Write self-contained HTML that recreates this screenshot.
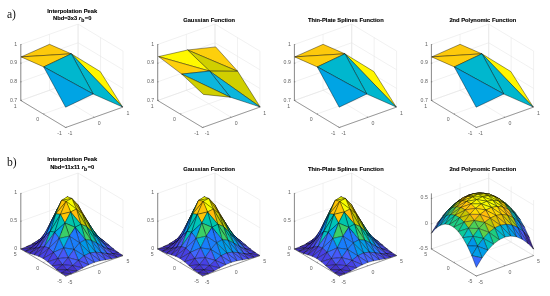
<!DOCTYPE html>
<html><head><meta charset="utf-8"><title>Interpolation peak figure</title>
<style>
html,body{margin:0;padding:0;background:#fff;}
body{width:550px;height:296px;overflow:hidden;}
svg{display:block;}
</style></head><body>
<svg width="550" height="296" viewBox="0 0 550 296">
<rect width="550" height="296" fill="#ffffff"/>
<line x1="65.70" y1="127.50" x2="20.80" y2="100.50" stroke="#e2e2e2" stroke-width="0.5"/>
<line x1="94.35" y1="117.30" x2="49.45" y2="90.30" stroke="#e2e2e2" stroke-width="0.5"/>
<line x1="123.00" y1="107.10" x2="78.10" y2="80.10" stroke="#e2e2e2" stroke-width="0.5"/>
<line x1="65.70" y1="127.50" x2="123.00" y2="107.10" stroke="#e2e2e2" stroke-width="0.5"/>
<line x1="43.25" y1="114.00" x2="100.55" y2="93.60" stroke="#e2e2e2" stroke-width="0.5"/>
<line x1="20.80" y1="100.50" x2="78.10" y2="80.10" stroke="#e2e2e2" stroke-width="0.5"/>
<line x1="20.80" y1="100.50" x2="20.80" y2="44.50" stroke="#e2e2e2" stroke-width="0.5"/>
<line x1="49.45" y1="90.30" x2="49.45" y2="34.30" stroke="#e2e2e2" stroke-width="0.5"/>
<line x1="78.10" y1="80.10" x2="78.10" y2="24.10" stroke="#e2e2e2" stroke-width="0.5"/>
<line x1="123.00" y1="107.10" x2="123.00" y2="51.10" stroke="#e2e2e2" stroke-width="0.5"/>
<line x1="100.55" y1="93.60" x2="100.55" y2="37.60" stroke="#e2e2e2" stroke-width="0.5"/>
<line x1="78.10" y1="80.10" x2="78.10" y2="24.10" stroke="#e2e2e2" stroke-width="0.5"/>
<line x1="20.80" y1="100.50" x2="78.10" y2="80.10" stroke="#e2e2e2" stroke-width="0.5"/>
<line x1="78.10" y1="80.10" x2="123.00" y2="107.10" stroke="#e2e2e2" stroke-width="0.5"/>
<line x1="20.80" y1="81.83" x2="78.10" y2="61.43" stroke="#e2e2e2" stroke-width="0.5"/>
<line x1="78.10" y1="61.43" x2="123.00" y2="88.43" stroke="#e2e2e2" stroke-width="0.5"/>
<line x1="20.80" y1="63.17" x2="78.10" y2="42.77" stroke="#e2e2e2" stroke-width="0.5"/>
<line x1="78.10" y1="42.77" x2="123.00" y2="69.77" stroke="#e2e2e2" stroke-width="0.5"/>
<line x1="20.80" y1="44.50" x2="78.10" y2="24.10" stroke="#e2e2e2" stroke-width="0.5"/>
<line x1="78.10" y1="24.10" x2="123.00" y2="51.10" stroke="#e2e2e2" stroke-width="0.5"/>
<polygon points="71.30,53.80 100.30,71.60 122.60,107.00" fill="#fff500" stroke="#000" stroke-width="0.4" stroke-linejoin="round"/>
<polygon points="21.10,56.90 49.50,44.30 71.30,53.80" fill="#fdc90c" stroke="#000" stroke-width="0.4" stroke-linejoin="round"/>
<polygon points="21.10,56.90 71.30,53.80 43.70,66.90" fill="#fdcd0c" stroke="#000" stroke-width="0.4" stroke-linejoin="round"/>
<polygon points="71.30,53.80 93.20,94.00 122.60,107.00" fill="#00b7ce" stroke="#000" stroke-width="0.4" stroke-linejoin="round"/>
<polygon points="43.70,66.90 71.30,53.80 93.20,94.00" fill="#00b7ce" stroke="#000" stroke-width="0.4" stroke-linejoin="round"/>
<polygon points="43.70,66.90 93.20,94.00 65.60,107.20" fill="#00a4e4" stroke="#000" stroke-width="0.4" stroke-linejoin="round"/>
<line x1="20.80" y1="100.50" x2="20.80" y2="44.50" stroke="#5c5c5c" stroke-width="0.7"/>
<line x1="20.80" y1="100.50" x2="65.70" y2="127.50" stroke="#5c5c5c" stroke-width="0.6"/>
<line x1="65.70" y1="127.50" x2="123.00" y2="107.10" stroke="#5c5c5c" stroke-width="0.6"/>
<line x1="20.30" y1="100.50" x2="21.70" y2="100.50" stroke="#5c5c5c" stroke-width="0.5"/>
<text x="17.20" y="101.50" font-size="5.2" text-anchor="end" font-weight="normal" fill="#626262" font-family="Liberation Sans, sans-serif">0.7</text>
<line x1="20.30" y1="81.83" x2="21.70" y2="81.83" stroke="#5c5c5c" stroke-width="0.5"/>
<text x="17.20" y="82.83" font-size="5.2" text-anchor="end" font-weight="normal" fill="#626262" font-family="Liberation Sans, sans-serif">0.8</text>
<line x1="20.30" y1="63.17" x2="21.70" y2="63.17" stroke="#5c5c5c" stroke-width="0.5"/>
<text x="17.20" y="64.17" font-size="5.2" text-anchor="end" font-weight="normal" fill="#626262" font-family="Liberation Sans, sans-serif">0.9</text>
<line x1="20.30" y1="44.50" x2="21.70" y2="44.50" stroke="#5c5c5c" stroke-width="0.5"/>
<text x="17.20" y="45.50" font-size="5.2" text-anchor="end" font-weight="normal" fill="#626262" font-family="Liberation Sans, sans-serif">1</text>
<line x1="65.70" y1="127.50" x2="64.67" y2="126.88" stroke="#5c5c5c" stroke-width="0.5"/>
<text x="70.10" y="135.20" font-size="5.2" text-anchor="middle" font-weight="normal" fill="#626262" font-family="Liberation Sans, sans-serif">-1</text>
<line x1="94.35" y1="117.30" x2="93.32" y2="116.68" stroke="#5c5c5c" stroke-width="0.5"/>
<text x="99.25" y="125.00" font-size="5.2" text-anchor="middle" font-weight="normal" fill="#626262" font-family="Liberation Sans, sans-serif">0</text>
<line x1="123.00" y1="107.10" x2="121.97" y2="106.48" stroke="#5c5c5c" stroke-width="0.5"/>
<text x="127.90" y="114.80" font-size="5.2" text-anchor="middle" font-weight="normal" fill="#626262" font-family="Liberation Sans, sans-serif">1</text>
<line x1="65.70" y1="127.50" x2="66.83" y2="127.10" stroke="#5c5c5c" stroke-width="0.5"/>
<text x="59.60" y="134.70" font-size="5.2" text-anchor="middle" font-weight="normal" fill="#626262" font-family="Liberation Sans, sans-serif">-1</text>
<line x1="43.25" y1="114.00" x2="44.38" y2="113.60" stroke="#5c5c5c" stroke-width="0.5"/>
<text x="37.65" y="121.20" font-size="5.2" text-anchor="middle" font-weight="normal" fill="#626262" font-family="Liberation Sans, sans-serif">0</text>
<line x1="20.80" y1="100.50" x2="21.93" y2="100.10" stroke="#5c5c5c" stroke-width="0.5"/>
<text x="15.20" y="107.70" font-size="5.2" text-anchor="middle" font-weight="normal" fill="#626262" font-family="Liberation Sans, sans-serif">1</text>
<text x="72.20" y="12.90" font-size="5.75" text-anchor="middle" font-weight="bold" fill="#000" font-family="Liberation Sans, sans-serif" stroke="#000" stroke-width="0.12">Interpolation Peak</text>
<text x="72.20" y="20.10" font-size="5.75" text-anchor="middle" font-weight="bold" fill="#000" font-family="Liberation Sans, sans-serif" stroke="#000" stroke-width="0.12">Nbd=3x3 <tspan font-style="italic">r</tspan><tspan font-size="5.0" dy="2.3" dx="0.2">b</tspan><tspan dy="-2.3" dx="0.5">=0</tspan></text>
<line x1="202.60" y1="127.50" x2="157.70" y2="100.50" stroke="#e2e2e2" stroke-width="0.5"/>
<line x1="231.25" y1="117.30" x2="186.35" y2="90.30" stroke="#e2e2e2" stroke-width="0.5"/>
<line x1="259.90" y1="107.10" x2="215.00" y2="80.10" stroke="#e2e2e2" stroke-width="0.5"/>
<line x1="202.60" y1="127.50" x2="259.90" y2="107.10" stroke="#e2e2e2" stroke-width="0.5"/>
<line x1="180.15" y1="114.00" x2="237.45" y2="93.60" stroke="#e2e2e2" stroke-width="0.5"/>
<line x1="157.70" y1="100.50" x2="215.00" y2="80.10" stroke="#e2e2e2" stroke-width="0.5"/>
<line x1="157.70" y1="100.50" x2="157.70" y2="44.50" stroke="#e2e2e2" stroke-width="0.5"/>
<line x1="186.35" y1="90.30" x2="186.35" y2="34.30" stroke="#e2e2e2" stroke-width="0.5"/>
<line x1="215.00" y1="80.10" x2="215.00" y2="24.10" stroke="#e2e2e2" stroke-width="0.5"/>
<line x1="259.90" y1="107.10" x2="259.90" y2="51.10" stroke="#e2e2e2" stroke-width="0.5"/>
<line x1="237.45" y1="93.60" x2="237.45" y2="37.60" stroke="#e2e2e2" stroke-width="0.5"/>
<line x1="215.00" y1="80.10" x2="215.00" y2="24.10" stroke="#e2e2e2" stroke-width="0.5"/>
<line x1="157.70" y1="100.50" x2="215.00" y2="80.10" stroke="#e2e2e2" stroke-width="0.5"/>
<line x1="215.00" y1="80.10" x2="259.90" y2="107.10" stroke="#e2e2e2" stroke-width="0.5"/>
<line x1="157.70" y1="81.83" x2="215.00" y2="61.43" stroke="#e2e2e2" stroke-width="0.5"/>
<line x1="215.00" y1="61.43" x2="259.90" y2="88.43" stroke="#e2e2e2" stroke-width="0.5"/>
<line x1="157.70" y1="63.17" x2="215.00" y2="42.77" stroke="#e2e2e2" stroke-width="0.5"/>
<line x1="215.00" y1="42.77" x2="259.90" y2="69.77" stroke="#e2e2e2" stroke-width="0.5"/>
<line x1="157.70" y1="44.50" x2="215.00" y2="24.10" stroke="#e2e2e2" stroke-width="0.5"/>
<line x1="215.00" y1="24.10" x2="259.90" y2="51.10" stroke="#e2e2e2" stroke-width="0.5"/>
<polygon points="187.60,50.00 215.70,46.90 237.70,71.30" fill="#fdcf0c" stroke="#000" stroke-width="0.4" stroke-linejoin="round"/>
<polygon points="187.60,50.00 209.60,71.10 237.70,71.30" fill="#d0cf00" stroke="#000" stroke-width="0.4" stroke-linejoin="round"/>
<polygon points="158.60,56.60 187.60,50.00 209.60,71.10" fill="#fff800" stroke="#000" stroke-width="0.4" stroke-linejoin="round"/>
<polygon points="158.60,56.60 209.60,71.10 181.70,74.10" fill="#fdcf0c" stroke="#000" stroke-width="0.4" stroke-linejoin="round"/>
<polygon points="209.60,71.10 237.70,71.30 260.20,107.00" fill="#d0cf00" stroke="#000" stroke-width="0.4" stroke-linejoin="round"/>
<polygon points="209.60,71.10 230.30,97.20 260.20,107.00" fill="#0cb6dc" stroke="#000" stroke-width="0.4" stroke-linejoin="round"/>
<polygon points="181.70,74.10 209.60,71.10 230.30,97.20" fill="#0cb6dc" stroke="#000" stroke-width="0.4" stroke-linejoin="round"/>
<polygon points="181.70,74.10 230.30,97.20 203.40,94.40" fill="#d0cf00" stroke="#000" stroke-width="0.4" stroke-linejoin="round"/>
<line x1="157.70" y1="100.50" x2="157.70" y2="44.50" stroke="#5c5c5c" stroke-width="0.7"/>
<line x1="157.70" y1="100.50" x2="202.60" y2="127.50" stroke="#5c5c5c" stroke-width="0.6"/>
<line x1="202.60" y1="127.50" x2="259.90" y2="107.10" stroke="#5c5c5c" stroke-width="0.6"/>
<line x1="157.20" y1="100.50" x2="158.60" y2="100.50" stroke="#5c5c5c" stroke-width="0.5"/>
<text x="154.10" y="101.50" font-size="5.2" text-anchor="end" font-weight="normal" fill="#626262" font-family="Liberation Sans, sans-serif">0.7</text>
<line x1="157.20" y1="81.83" x2="158.60" y2="81.83" stroke="#5c5c5c" stroke-width="0.5"/>
<text x="154.10" y="82.83" font-size="5.2" text-anchor="end" font-weight="normal" fill="#626262" font-family="Liberation Sans, sans-serif">0.8</text>
<line x1="157.20" y1="63.17" x2="158.60" y2="63.17" stroke="#5c5c5c" stroke-width="0.5"/>
<text x="154.10" y="64.17" font-size="5.2" text-anchor="end" font-weight="normal" fill="#626262" font-family="Liberation Sans, sans-serif">0.9</text>
<line x1="157.20" y1="44.50" x2="158.60" y2="44.50" stroke="#5c5c5c" stroke-width="0.5"/>
<text x="154.10" y="45.50" font-size="5.2" text-anchor="end" font-weight="normal" fill="#626262" font-family="Liberation Sans, sans-serif">1</text>
<line x1="202.60" y1="127.50" x2="201.57" y2="126.88" stroke="#5c5c5c" stroke-width="0.5"/>
<text x="207.00" y="135.20" font-size="5.2" text-anchor="middle" font-weight="normal" fill="#626262" font-family="Liberation Sans, sans-serif">-1</text>
<line x1="231.25" y1="117.30" x2="230.22" y2="116.68" stroke="#5c5c5c" stroke-width="0.5"/>
<text x="236.15" y="125.00" font-size="5.2" text-anchor="middle" font-weight="normal" fill="#626262" font-family="Liberation Sans, sans-serif">0</text>
<line x1="259.90" y1="107.10" x2="258.87" y2="106.48" stroke="#5c5c5c" stroke-width="0.5"/>
<text x="264.80" y="114.80" font-size="5.2" text-anchor="middle" font-weight="normal" fill="#626262" font-family="Liberation Sans, sans-serif">1</text>
<line x1="202.60" y1="127.50" x2="203.73" y2="127.10" stroke="#5c5c5c" stroke-width="0.5"/>
<text x="196.50" y="134.70" font-size="5.2" text-anchor="middle" font-weight="normal" fill="#626262" font-family="Liberation Sans, sans-serif">-1</text>
<line x1="180.15" y1="114.00" x2="181.28" y2="113.60" stroke="#5c5c5c" stroke-width="0.5"/>
<text x="174.55" y="121.20" font-size="5.2" text-anchor="middle" font-weight="normal" fill="#626262" font-family="Liberation Sans, sans-serif">0</text>
<line x1="157.70" y1="100.50" x2="158.83" y2="100.10" stroke="#5c5c5c" stroke-width="0.5"/>
<text x="152.10" y="107.70" font-size="5.2" text-anchor="middle" font-weight="normal" fill="#626262" font-family="Liberation Sans, sans-serif">1</text>
<text x="209.10" y="22.35" font-size="5.75" text-anchor="middle" font-weight="bold" fill="#000" font-family="Liberation Sans, sans-serif" stroke="#000" stroke-width="0.12">Gaussian Function</text>
<line x1="339.30" y1="127.50" x2="294.40" y2="100.50" stroke="#e2e2e2" stroke-width="0.5"/>
<line x1="367.95" y1="117.30" x2="323.05" y2="90.30" stroke="#e2e2e2" stroke-width="0.5"/>
<line x1="396.60" y1="107.10" x2="351.70" y2="80.10" stroke="#e2e2e2" stroke-width="0.5"/>
<line x1="339.30" y1="127.50" x2="396.60" y2="107.10" stroke="#e2e2e2" stroke-width="0.5"/>
<line x1="316.85" y1="114.00" x2="374.15" y2="93.60" stroke="#e2e2e2" stroke-width="0.5"/>
<line x1="294.40" y1="100.50" x2="351.70" y2="80.10" stroke="#e2e2e2" stroke-width="0.5"/>
<line x1="294.40" y1="100.50" x2="294.40" y2="44.50" stroke="#e2e2e2" stroke-width="0.5"/>
<line x1="323.05" y1="90.30" x2="323.05" y2="34.30" stroke="#e2e2e2" stroke-width="0.5"/>
<line x1="351.70" y1="80.10" x2="351.70" y2="24.10" stroke="#e2e2e2" stroke-width="0.5"/>
<line x1="396.60" y1="107.10" x2="396.60" y2="51.10" stroke="#e2e2e2" stroke-width="0.5"/>
<line x1="374.15" y1="93.60" x2="374.15" y2="37.60" stroke="#e2e2e2" stroke-width="0.5"/>
<line x1="351.70" y1="80.10" x2="351.70" y2="24.10" stroke="#e2e2e2" stroke-width="0.5"/>
<line x1="294.40" y1="100.50" x2="351.70" y2="80.10" stroke="#e2e2e2" stroke-width="0.5"/>
<line x1="351.70" y1="80.10" x2="396.60" y2="107.10" stroke="#e2e2e2" stroke-width="0.5"/>
<line x1="294.40" y1="81.83" x2="351.70" y2="61.43" stroke="#e2e2e2" stroke-width="0.5"/>
<line x1="351.70" y1="61.43" x2="396.60" y2="88.43" stroke="#e2e2e2" stroke-width="0.5"/>
<line x1="294.40" y1="63.17" x2="351.70" y2="42.77" stroke="#e2e2e2" stroke-width="0.5"/>
<line x1="351.70" y1="42.77" x2="396.60" y2="69.77" stroke="#e2e2e2" stroke-width="0.5"/>
<line x1="294.40" y1="44.50" x2="351.70" y2="24.10" stroke="#e2e2e2" stroke-width="0.5"/>
<line x1="351.70" y1="24.10" x2="396.60" y2="51.10" stroke="#e2e2e2" stroke-width="0.5"/>
<polygon points="344.90,53.80 373.90,71.60 396.20,107.00" fill="#fff500" stroke="#000" stroke-width="0.4" stroke-linejoin="round"/>
<polygon points="294.70,56.90 323.10,44.30 344.90,53.80" fill="#fdc90c" stroke="#000" stroke-width="0.4" stroke-linejoin="round"/>
<polygon points="294.70,56.90 344.90,53.80 317.30,66.90" fill="#fdcd0c" stroke="#000" stroke-width="0.4" stroke-linejoin="round"/>
<polygon points="344.90,53.80 366.80,94.00 396.20,107.00" fill="#00b7ce" stroke="#000" stroke-width="0.4" stroke-linejoin="round"/>
<polygon points="317.30,66.90 344.90,53.80 366.80,94.00" fill="#00b7ce" stroke="#000" stroke-width="0.4" stroke-linejoin="round"/>
<polygon points="317.30,66.90 366.80,94.00 339.20,107.20" fill="#00a4e4" stroke="#000" stroke-width="0.4" stroke-linejoin="round"/>
<line x1="294.40" y1="100.50" x2="294.40" y2="44.50" stroke="#5c5c5c" stroke-width="0.7"/>
<line x1="294.40" y1="100.50" x2="339.30" y2="127.50" stroke="#5c5c5c" stroke-width="0.6"/>
<line x1="339.30" y1="127.50" x2="396.60" y2="107.10" stroke="#5c5c5c" stroke-width="0.6"/>
<line x1="293.90" y1="100.50" x2="295.30" y2="100.50" stroke="#5c5c5c" stroke-width="0.5"/>
<text x="290.80" y="101.50" font-size="5.2" text-anchor="end" font-weight="normal" fill="#626262" font-family="Liberation Sans, sans-serif">0.7</text>
<line x1="293.90" y1="81.83" x2="295.30" y2="81.83" stroke="#5c5c5c" stroke-width="0.5"/>
<text x="290.80" y="82.83" font-size="5.2" text-anchor="end" font-weight="normal" fill="#626262" font-family="Liberation Sans, sans-serif">0.8</text>
<line x1="293.90" y1="63.17" x2="295.30" y2="63.17" stroke="#5c5c5c" stroke-width="0.5"/>
<text x="290.80" y="64.17" font-size="5.2" text-anchor="end" font-weight="normal" fill="#626262" font-family="Liberation Sans, sans-serif">0.9</text>
<line x1="293.90" y1="44.50" x2="295.30" y2="44.50" stroke="#5c5c5c" stroke-width="0.5"/>
<text x="290.80" y="45.50" font-size="5.2" text-anchor="end" font-weight="normal" fill="#626262" font-family="Liberation Sans, sans-serif">1</text>
<line x1="339.30" y1="127.50" x2="338.27" y2="126.88" stroke="#5c5c5c" stroke-width="0.5"/>
<text x="343.70" y="135.20" font-size="5.2" text-anchor="middle" font-weight="normal" fill="#626262" font-family="Liberation Sans, sans-serif">-1</text>
<line x1="367.95" y1="117.30" x2="366.92" y2="116.68" stroke="#5c5c5c" stroke-width="0.5"/>
<text x="372.85" y="125.00" font-size="5.2" text-anchor="middle" font-weight="normal" fill="#626262" font-family="Liberation Sans, sans-serif">0</text>
<line x1="396.60" y1="107.10" x2="395.57" y2="106.48" stroke="#5c5c5c" stroke-width="0.5"/>
<text x="401.50" y="114.80" font-size="5.2" text-anchor="middle" font-weight="normal" fill="#626262" font-family="Liberation Sans, sans-serif">1</text>
<line x1="339.30" y1="127.50" x2="340.43" y2="127.10" stroke="#5c5c5c" stroke-width="0.5"/>
<text x="333.20" y="134.70" font-size="5.2" text-anchor="middle" font-weight="normal" fill="#626262" font-family="Liberation Sans, sans-serif">-1</text>
<line x1="316.85" y1="114.00" x2="317.98" y2="113.60" stroke="#5c5c5c" stroke-width="0.5"/>
<text x="311.25" y="121.20" font-size="5.2" text-anchor="middle" font-weight="normal" fill="#626262" font-family="Liberation Sans, sans-serif">0</text>
<line x1="294.40" y1="100.50" x2="295.53" y2="100.10" stroke="#5c5c5c" stroke-width="0.5"/>
<text x="288.80" y="107.70" font-size="5.2" text-anchor="middle" font-weight="normal" fill="#626262" font-family="Liberation Sans, sans-serif">1</text>
<text x="345.80" y="22.35" font-size="5.75" text-anchor="middle" font-weight="bold" fill="#000" font-family="Liberation Sans, sans-serif" stroke="#000" stroke-width="0.12">Thin-Plate Splines Function</text>
<line x1="476.30" y1="127.50" x2="431.40" y2="100.50" stroke="#e2e2e2" stroke-width="0.5"/>
<line x1="504.95" y1="117.30" x2="460.05" y2="90.30" stroke="#e2e2e2" stroke-width="0.5"/>
<line x1="533.60" y1="107.10" x2="488.70" y2="80.10" stroke="#e2e2e2" stroke-width="0.5"/>
<line x1="476.30" y1="127.50" x2="533.60" y2="107.10" stroke="#e2e2e2" stroke-width="0.5"/>
<line x1="453.85" y1="114.00" x2="511.15" y2="93.60" stroke="#e2e2e2" stroke-width="0.5"/>
<line x1="431.40" y1="100.50" x2="488.70" y2="80.10" stroke="#e2e2e2" stroke-width="0.5"/>
<line x1="431.40" y1="100.50" x2="431.40" y2="44.50" stroke="#e2e2e2" stroke-width="0.5"/>
<line x1="460.05" y1="90.30" x2="460.05" y2="34.30" stroke="#e2e2e2" stroke-width="0.5"/>
<line x1="488.70" y1="80.10" x2="488.70" y2="24.10" stroke="#e2e2e2" stroke-width="0.5"/>
<line x1="533.60" y1="107.10" x2="533.60" y2="51.10" stroke="#e2e2e2" stroke-width="0.5"/>
<line x1="511.15" y1="93.60" x2="511.15" y2="37.60" stroke="#e2e2e2" stroke-width="0.5"/>
<line x1="488.70" y1="80.10" x2="488.70" y2="24.10" stroke="#e2e2e2" stroke-width="0.5"/>
<line x1="431.40" y1="100.50" x2="488.70" y2="80.10" stroke="#e2e2e2" stroke-width="0.5"/>
<line x1="488.70" y1="80.10" x2="533.60" y2="107.10" stroke="#e2e2e2" stroke-width="0.5"/>
<line x1="431.40" y1="81.83" x2="488.70" y2="61.43" stroke="#e2e2e2" stroke-width="0.5"/>
<line x1="488.70" y1="61.43" x2="533.60" y2="88.43" stroke="#e2e2e2" stroke-width="0.5"/>
<line x1="431.40" y1="63.17" x2="488.70" y2="42.77" stroke="#e2e2e2" stroke-width="0.5"/>
<line x1="488.70" y1="42.77" x2="533.60" y2="69.77" stroke="#e2e2e2" stroke-width="0.5"/>
<line x1="431.40" y1="44.50" x2="488.70" y2="24.10" stroke="#e2e2e2" stroke-width="0.5"/>
<line x1="488.70" y1="24.10" x2="533.60" y2="51.10" stroke="#e2e2e2" stroke-width="0.5"/>
<polygon points="481.90,53.80 510.90,71.60 533.20,107.00" fill="#fff500" stroke="#000" stroke-width="0.4" stroke-linejoin="round"/>
<polygon points="431.70,56.90 460.10,44.30 481.90,53.80" fill="#fdc90c" stroke="#000" stroke-width="0.4" stroke-linejoin="round"/>
<polygon points="431.70,56.90 481.90,53.80 454.30,66.90" fill="#fdcd0c" stroke="#000" stroke-width="0.4" stroke-linejoin="round"/>
<polygon points="481.90,53.80 503.80,94.00 533.20,107.00" fill="#00b7ce" stroke="#000" stroke-width="0.4" stroke-linejoin="round"/>
<polygon points="454.30,66.90 481.90,53.80 503.80,94.00" fill="#00b7ce" stroke="#000" stroke-width="0.4" stroke-linejoin="round"/>
<polygon points="454.30,66.90 503.80,94.00 476.20,107.20" fill="#00a4e4" stroke="#000" stroke-width="0.4" stroke-linejoin="round"/>
<line x1="431.40" y1="100.50" x2="431.40" y2="44.50" stroke="#5c5c5c" stroke-width="0.7"/>
<line x1="431.40" y1="100.50" x2="476.30" y2="127.50" stroke="#5c5c5c" stroke-width="0.6"/>
<line x1="476.30" y1="127.50" x2="533.60" y2="107.10" stroke="#5c5c5c" stroke-width="0.6"/>
<line x1="430.90" y1="100.50" x2="432.30" y2="100.50" stroke="#5c5c5c" stroke-width="0.5"/>
<text x="427.80" y="101.50" font-size="5.2" text-anchor="end" font-weight="normal" fill="#626262" font-family="Liberation Sans, sans-serif">0.7</text>
<line x1="430.90" y1="81.83" x2="432.30" y2="81.83" stroke="#5c5c5c" stroke-width="0.5"/>
<text x="427.80" y="82.83" font-size="5.2" text-anchor="end" font-weight="normal" fill="#626262" font-family="Liberation Sans, sans-serif">0.8</text>
<line x1="430.90" y1="63.17" x2="432.30" y2="63.17" stroke="#5c5c5c" stroke-width="0.5"/>
<text x="427.80" y="64.17" font-size="5.2" text-anchor="end" font-weight="normal" fill="#626262" font-family="Liberation Sans, sans-serif">0.9</text>
<line x1="430.90" y1="44.50" x2="432.30" y2="44.50" stroke="#5c5c5c" stroke-width="0.5"/>
<text x="427.80" y="45.50" font-size="5.2" text-anchor="end" font-weight="normal" fill="#626262" font-family="Liberation Sans, sans-serif">1</text>
<line x1="476.30" y1="127.50" x2="475.27" y2="126.88" stroke="#5c5c5c" stroke-width="0.5"/>
<text x="480.70" y="135.20" font-size="5.2" text-anchor="middle" font-weight="normal" fill="#626262" font-family="Liberation Sans, sans-serif">-1</text>
<line x1="504.95" y1="117.30" x2="503.92" y2="116.68" stroke="#5c5c5c" stroke-width="0.5"/>
<text x="509.85" y="125.00" font-size="5.2" text-anchor="middle" font-weight="normal" fill="#626262" font-family="Liberation Sans, sans-serif">0</text>
<line x1="533.60" y1="107.10" x2="532.57" y2="106.48" stroke="#5c5c5c" stroke-width="0.5"/>
<text x="538.50" y="114.80" font-size="5.2" text-anchor="middle" font-weight="normal" fill="#626262" font-family="Liberation Sans, sans-serif">1</text>
<line x1="476.30" y1="127.50" x2="477.43" y2="127.10" stroke="#5c5c5c" stroke-width="0.5"/>
<text x="470.20" y="134.70" font-size="5.2" text-anchor="middle" font-weight="normal" fill="#626262" font-family="Liberation Sans, sans-serif">-1</text>
<line x1="453.85" y1="114.00" x2="454.98" y2="113.60" stroke="#5c5c5c" stroke-width="0.5"/>
<text x="448.25" y="121.20" font-size="5.2" text-anchor="middle" font-weight="normal" fill="#626262" font-family="Liberation Sans, sans-serif">0</text>
<line x1="431.40" y1="100.50" x2="432.53" y2="100.10" stroke="#5c5c5c" stroke-width="0.5"/>
<text x="425.80" y="107.70" font-size="5.2" text-anchor="middle" font-weight="normal" fill="#626262" font-family="Liberation Sans, sans-serif">1</text>
<text x="482.80" y="22.35" font-size="5.75" text-anchor="middle" font-weight="bold" fill="#000" font-family="Liberation Sans, sans-serif" stroke="#000" stroke-width="0.12">2nd Polynomic Function</text>
<line x1="65.70" y1="276.00" x2="20.80" y2="249.00" stroke="#e2e2e2" stroke-width="0.5"/>
<line x1="94.35" y1="265.80" x2="49.45" y2="238.80" stroke="#e2e2e2" stroke-width="0.5"/>
<line x1="123.00" y1="255.60" x2="78.10" y2="228.60" stroke="#e2e2e2" stroke-width="0.5"/>
<line x1="65.70" y1="276.00" x2="123.00" y2="255.60" stroke="#e2e2e2" stroke-width="0.5"/>
<line x1="43.25" y1="262.50" x2="100.55" y2="242.10" stroke="#e2e2e2" stroke-width="0.5"/>
<line x1="20.80" y1="249.00" x2="78.10" y2="228.60" stroke="#e2e2e2" stroke-width="0.5"/>
<line x1="20.80" y1="249.00" x2="20.80" y2="193.40" stroke="#e2e2e2" stroke-width="0.5"/>
<line x1="49.45" y1="238.80" x2="49.45" y2="183.20" stroke="#e2e2e2" stroke-width="0.5"/>
<line x1="78.10" y1="228.60" x2="78.10" y2="173.00" stroke="#e2e2e2" stroke-width="0.5"/>
<line x1="123.00" y1="255.60" x2="123.00" y2="200.00" stroke="#e2e2e2" stroke-width="0.5"/>
<line x1="100.55" y1="242.10" x2="100.55" y2="186.50" stroke="#e2e2e2" stroke-width="0.5"/>
<line x1="78.10" y1="228.60" x2="78.10" y2="173.00" stroke="#e2e2e2" stroke-width="0.5"/>
<line x1="20.80" y1="249.00" x2="78.10" y2="228.60" stroke="#e2e2e2" stroke-width="0.5"/>
<line x1="78.10" y1="228.60" x2="123.00" y2="255.60" stroke="#e2e2e2" stroke-width="0.5"/>
<line x1="20.80" y1="221.20" x2="78.10" y2="200.80" stroke="#e2e2e2" stroke-width="0.5"/>
<line x1="78.10" y1="200.80" x2="123.00" y2="227.80" stroke="#e2e2e2" stroke-width="0.5"/>
<line x1="20.80" y1="193.40" x2="78.10" y2="173.00" stroke="#e2e2e2" stroke-width="0.5"/>
<line x1="78.10" y1="173.00" x2="123.00" y2="200.00" stroke="#e2e2e2" stroke-width="0.5"/>
<polygon points="78.10,228.57 72.37,230.39 82.59,231.05" fill="#422ec0" stroke="#000" stroke-width="0.35" stroke-linejoin="round"/>
<polygon points="76.86,232.04 82.59,231.05 72.37,230.39" fill="#422ec0" stroke="#000" stroke-width="0.35" stroke-linejoin="round"/>
<polygon points="72.37,230.39 66.64,231.74 76.86,232.04" fill="#4332cb" stroke="#000" stroke-width="0.35" stroke-linejoin="round"/>
<polygon points="82.59,231.05 76.86,232.04 87.08,233.09" fill="#4332cb" stroke="#000" stroke-width="0.35" stroke-linejoin="round"/>
<polygon points="71.13,231.64 76.86,232.04 66.64,231.74" fill="#4332cb" stroke="#000" stroke-width="0.35" stroke-linejoin="round"/>
<polygon points="66.64,231.74 60.91,232.57 71.13,231.64" fill="#4537d5" stroke="#000" stroke-width="0.35" stroke-linejoin="round"/>
<polygon points="81.35,232.41 87.08,233.09 76.86,232.04" fill="#4332cb" stroke="#000" stroke-width="0.35" stroke-linejoin="round"/>
<polygon points="76.86,232.04 71.13,231.64 81.35,232.41" fill="#4741e5" stroke="#000" stroke-width="0.35" stroke-linejoin="round"/>
<polygon points="87.08,233.09 81.35,232.41 91.57,234.69" fill="#4741e5" stroke="#000" stroke-width="0.35" stroke-linejoin="round"/>
<polygon points="65.40,230.15 71.13,231.64 60.91,232.57" fill="#4537d5" stroke="#000" stroke-width="0.35" stroke-linejoin="round"/>
<polygon points="60.91,232.57 55.18,233.37 65.40,230.15" fill="#4741e5" stroke="#000" stroke-width="0.35" stroke-linejoin="round"/>
<polygon points="75.62,229.22 81.35,232.41 71.13,231.64" fill="#4741e5" stroke="#000" stroke-width="0.35" stroke-linejoin="round"/>
<polygon points="71.13,231.64 65.40,230.15 75.62,229.22" fill="#4758f8" stroke="#000" stroke-width="0.35" stroke-linejoin="round"/>
<polygon points="85.84,232.01 91.57,234.69 81.35,232.41" fill="#4741e5" stroke="#000" stroke-width="0.35" stroke-linejoin="round"/>
<polygon points="81.35,232.41 75.62,229.22 85.84,232.01" fill="#465efb" stroke="#000" stroke-width="0.35" stroke-linejoin="round"/>
<polygon points="59.67,228.80 65.40,230.15 55.18,233.37" fill="#4741e5" stroke="#000" stroke-width="0.35" stroke-linejoin="round"/>
<polygon points="91.57,234.69 85.84,232.01 96.06,236.36" fill="#4852f4" stroke="#000" stroke-width="0.35" stroke-linejoin="round"/>
<polygon points="55.18,233.37 49.45,234.84 59.67,228.80" fill="#4741e5" stroke="#000" stroke-width="0.35" stroke-linejoin="round"/>
<polygon points="69.89,224.28 75.62,229.22 65.40,230.15" fill="#4758f8" stroke="#000" stroke-width="0.35" stroke-linejoin="round"/>
<polygon points="65.40,230.15 59.67,228.80 69.89,224.28" fill="#4067fe" stroke="#000" stroke-width="0.35" stroke-linejoin="round"/>
<polygon points="80.11,225.87 85.84,232.01 75.62,229.22" fill="#465efb" stroke="#000" stroke-width="0.35" stroke-linejoin="round"/>
<polygon points="75.62,229.22 69.89,224.28 80.11,225.87" fill="#187dfb" stroke="#000" stroke-width="0.35" stroke-linejoin="round"/>
<polygon points="90.33,232.18 96.06,236.36 85.84,232.01" fill="#4852f4" stroke="#000" stroke-width="0.35" stroke-linejoin="round"/>
<polygon points="53.94,229.22 59.67,228.80 49.45,234.84" fill="#4741e5" stroke="#000" stroke-width="0.35" stroke-linejoin="round"/>
<polygon points="85.84,232.01 80.11,225.87 90.33,232.18" fill="#1d78fd" stroke="#000" stroke-width="0.35" stroke-linejoin="round"/>
<polygon points="49.45,234.84 43.72,237.36 53.94,229.22" fill="#4741e5" stroke="#000" stroke-width="0.35" stroke-linejoin="round"/>
<polygon points="64.16,219.66 69.89,224.28 59.67,228.80" fill="#4067fe" stroke="#000" stroke-width="0.35" stroke-linejoin="round"/>
<polygon points="96.06,236.36 90.33,232.18 100.55,238.68" fill="#4563fd" stroke="#000" stroke-width="0.35" stroke-linejoin="round"/>
<polygon points="59.67,228.80 53.94,229.22 64.16,219.66" fill="#3070ff" stroke="#000" stroke-width="0.35" stroke-linejoin="round"/>
<polygon points="74.38,217.35 80.11,225.87 69.89,224.28" fill="#187dfb" stroke="#000" stroke-width="0.35" stroke-linejoin="round"/>
<polygon points="69.89,224.28 64.16,219.66 74.38,217.35" fill="#00aae1" stroke="#000" stroke-width="0.35" stroke-linejoin="round"/>
<polygon points="84.60,224.05 90.33,232.18 80.11,225.87" fill="#1d78fd" stroke="#000" stroke-width="0.35" stroke-linejoin="round"/>
<polygon points="48.21,232.37 53.94,229.22 43.72,237.36" fill="#4741e5" stroke="#000" stroke-width="0.35" stroke-linejoin="round"/>
<polygon points="80.11,225.87 74.38,217.35 84.60,224.05" fill="#00bec7" stroke="#000" stroke-width="0.35" stroke-linejoin="round"/>
<polygon points="94.82,234.07 100.55,238.68 90.33,232.18" fill="#4563fd" stroke="#000" stroke-width="0.35" stroke-linejoin="round"/>
<polygon points="43.72,237.36 37.99,240.63 48.21,232.37" fill="#4537d5" stroke="#000" stroke-width="0.35" stroke-linejoin="round"/>
<polygon points="58.43,218.21 64.16,219.66 53.94,229.22" fill="#3070ff" stroke="#000" stroke-width="0.35" stroke-linejoin="round"/>
<polygon points="90.33,232.18 84.60,224.05 94.82,234.07" fill="#0097ea" stroke="#000" stroke-width="0.35" stroke-linejoin="round"/>
<polygon points="53.94,229.22 48.21,232.37 58.43,218.21" fill="#3a6cff" stroke="#000" stroke-width="0.35" stroke-linejoin="round"/>
<polygon points="68.65,209.09 74.38,217.35 64.16,219.66" fill="#00aae1" stroke="#000" stroke-width="0.35" stroke-linejoin="round"/>
<polygon points="100.55,238.68 94.82,234.07 105.04,241.84" fill="#4563fd" stroke="#000" stroke-width="0.35" stroke-linejoin="round"/>
<polygon points="64.16,219.66 58.43,218.21 68.65,209.09" fill="#00bec7" stroke="#000" stroke-width="0.35" stroke-linejoin="round"/>
<polygon points="78.87,213.32 84.60,224.05 74.38,217.35" fill="#00bec7" stroke="#000" stroke-width="0.35" stroke-linejoin="round"/>
<polygon points="42.48,237.72 48.21,232.37 37.99,240.63" fill="#4537d5" stroke="#000" stroke-width="0.35" stroke-linejoin="round"/>
<polygon points="74.38,217.35 68.65,209.09 78.87,213.32" fill="#6fce3c" stroke="#000" stroke-width="0.35" stroke-linejoin="round"/>
<polygon points="89.09,225.65 94.82,234.07 84.60,224.05" fill="#0097ea" stroke="#000" stroke-width="0.35" stroke-linejoin="round"/>
<polygon points="37.99,240.63 32.26,243.92 42.48,237.72" fill="#4332cb" stroke="#000" stroke-width="0.35" stroke-linejoin="round"/>
<polygon points="52.70,222.00 58.43,218.21 48.21,232.37" fill="#3a6cff" stroke="#000" stroke-width="0.35" stroke-linejoin="round"/>
<polygon points="84.60,224.05 78.87,213.32 89.09,225.65" fill="#2acf74" stroke="#000" stroke-width="0.35" stroke-linejoin="round"/>
<polygon points="99.31,238.00 105.04,241.84 94.82,234.07" fill="#4563fd" stroke="#000" stroke-width="0.35" stroke-linejoin="round"/>
<polygon points="48.21,232.37 42.48,237.72 52.70,222.00" fill="#4758f8" stroke="#000" stroke-width="0.35" stroke-linejoin="round"/>
<polygon points="62.92,205.14 68.65,209.09 58.43,218.21" fill="#00bec7" stroke="#000" stroke-width="0.35" stroke-linejoin="round"/>
<polygon points="94.82,234.07 89.09,225.65 99.31,238.00" fill="#009de8" stroke="#000" stroke-width="0.35" stroke-linejoin="round"/>
<polygon points="58.43,218.21 52.70,222.00 62.92,205.14" fill="#00b7d5" stroke="#000" stroke-width="0.35" stroke-linejoin="round"/>
<polygon points="73.14,202.74 78.87,213.32 68.65,209.09" fill="#6fce3c" stroke="#000" stroke-width="0.35" stroke-linejoin="round"/>
<polygon points="36.75,243.54 42.48,237.72 32.26,243.92" fill="#4332cb" stroke="#000" stroke-width="0.35" stroke-linejoin="round"/>
<polygon points="105.04,241.84 99.31,238.00 109.53,245.58" fill="#465efb" stroke="#000" stroke-width="0.35" stroke-linejoin="round"/>
<polygon points="68.65,209.09 62.92,205.14 73.14,202.74" fill="#dfc200" stroke="#000" stroke-width="0.35" stroke-linejoin="round"/>
<polygon points="83.36,214.92 89.09,225.65 78.87,213.32" fill="#2acf74" stroke="#000" stroke-width="0.35" stroke-linejoin="round"/>
<polygon points="32.26,243.92 26.53,246.70 36.75,243.54" fill="#422ec0" stroke="#000" stroke-width="0.35" stroke-linejoin="round"/>
<polygon points="46.97,230.39 52.70,222.00 42.48,237.72" fill="#4758f8" stroke="#000" stroke-width="0.35" stroke-linejoin="round"/>
<polygon points="78.87,213.32 73.14,202.74 83.36,214.92" fill="#ffbd0c" stroke="#000" stroke-width="0.35" stroke-linejoin="round"/>
<polygon points="93.58,230.82 99.31,238.00 89.09,225.65" fill="#009de8" stroke="#000" stroke-width="0.35" stroke-linejoin="round"/>
<polygon points="42.48,237.72 36.75,243.54 46.97,230.39" fill="#4741e5" stroke="#000" stroke-width="0.35" stroke-linejoin="round"/>
<polygon points="57.19,209.14 62.92,205.14 52.70,222.00" fill="#00b7d5" stroke="#000" stroke-width="0.35" stroke-linejoin="round"/>
<polygon points="89.09,225.65 83.36,214.92 93.58,230.82" fill="#3acf67" stroke="#000" stroke-width="0.35" stroke-linejoin="round"/>
<polygon points="103.80,243.31 109.53,245.58 99.31,238.00" fill="#465efb" stroke="#000" stroke-width="0.35" stroke-linejoin="round"/>
<polygon points="52.70,222.00 46.97,230.39 57.19,209.14" fill="#0a8cf0" stroke="#000" stroke-width="0.35" stroke-linejoin="round"/>
<polygon points="67.41,196.81 73.14,202.74 62.92,205.14" fill="#dfc200" stroke="#000" stroke-width="0.35" stroke-linejoin="round"/>
<polygon points="31.02,248.25 36.75,243.54 26.53,246.70" fill="#422ec0" stroke="#000" stroke-width="0.35" stroke-linejoin="round"/>
<polygon points="99.31,238.00 93.58,230.82 103.80,243.31" fill="#098cf0" stroke="#000" stroke-width="0.35" stroke-linejoin="round"/>
<polygon points="62.92,205.14 57.19,209.14 67.41,196.81" fill="#c7c501" stroke="#000" stroke-width="0.35" stroke-linejoin="round"/>
<polygon points="77.63,204.51 83.36,214.92 73.14,202.74" fill="#ffbd0c" stroke="#000" stroke-width="0.35" stroke-linejoin="round"/>
<polygon points="26.53,246.70 20.80,248.97 31.02,248.25" fill="#422ec0" stroke="#000" stroke-width="0.35" stroke-linejoin="round"/>
<polygon points="41.24,240.20 46.97,230.39 36.75,243.54" fill="#4741e5" stroke="#000" stroke-width="0.35" stroke-linejoin="round"/>
<polygon points="109.53,245.58 103.80,243.31 114.02,249.33" fill="#484df0" stroke="#000" stroke-width="0.35" stroke-linejoin="round"/>
<polygon points="73.14,202.74 67.41,196.81 77.63,204.51" fill="#f9ff00" stroke="#000" stroke-width="0.35" stroke-linejoin="round"/>
<polygon points="87.85,221.88 93.58,230.82 83.36,214.92" fill="#3acf67" stroke="#000" stroke-width="0.35" stroke-linejoin="round"/>
<polygon points="36.75,243.54 31.02,248.25 41.24,240.20" fill="#4332cb" stroke="#000" stroke-width="0.35" stroke-linejoin="round"/>
<polygon points="51.46,220.75 57.19,209.14 46.97,230.39" fill="#0a8cf0" stroke="#000" stroke-width="0.35" stroke-linejoin="round"/>
<polygon points="83.36,214.92 77.63,204.51 87.85,221.88" fill="#ffc406" stroke="#000" stroke-width="0.35" stroke-linejoin="round"/>
<polygon points="98.07,238.34 103.80,243.31 93.58,230.82" fill="#098cf0" stroke="#000" stroke-width="0.35" stroke-linejoin="round"/>
<polygon points="46.97,230.39 41.24,240.20 51.46,220.75" fill="#4463fd" stroke="#000" stroke-width="0.35" stroke-linejoin="round"/>
<polygon points="61.68,200.33 67.41,196.81 57.19,209.14" fill="#c7c501" stroke="#000" stroke-width="0.35" stroke-linejoin="round"/>
<polygon points="25.29,251.44 31.02,248.25 20.80,248.97" fill="#422ec0" stroke="#000" stroke-width="0.35" stroke-linejoin="round"/>
<polygon points="93.58,230.82 87.85,221.88 98.07,238.34" fill="#06c7a3" stroke="#000" stroke-width="0.35" stroke-linejoin="round"/>
<polygon points="108.29,248.91 114.02,249.33 103.80,243.31" fill="#484df0" stroke="#000" stroke-width="0.35" stroke-linejoin="round"/>
<polygon points="57.19,209.14 51.46,220.75 61.68,200.33" fill="#0dc998" stroke="#000" stroke-width="0.35" stroke-linejoin="round"/>
<polygon points="71.90,198.44 77.63,204.51 67.41,196.81" fill="#f9ff00" stroke="#000" stroke-width="0.35" stroke-linejoin="round"/>
<polygon points="35.51,248.28 41.24,240.20 31.02,248.25" fill="#4332cb" stroke="#000" stroke-width="0.35" stroke-linejoin="round"/>
<polygon points="103.80,243.31 98.07,238.34 108.29,248.91" fill="#2675ff" stroke="#000" stroke-width="0.35" stroke-linejoin="round"/>
<polygon points="67.41,196.81 61.68,200.33 71.90,198.44" fill="#f9ff00" stroke="#000" stroke-width="0.35" stroke-linejoin="round"/>
<polygon points="82.12,213.57 87.85,221.88 77.63,204.51" fill="#ffc406" stroke="#000" stroke-width="0.35" stroke-linejoin="round"/>
<polygon points="31.02,248.25 25.29,251.44 35.51,248.28" fill="#422ec0" stroke="#000" stroke-width="0.35" stroke-linejoin="round"/>
<polygon points="45.73,235.11 51.46,220.75 41.24,240.20" fill="#4463fd" stroke="#000" stroke-width="0.35" stroke-linejoin="round"/>
<polygon points="114.02,249.33 108.29,248.91 118.51,252.67" fill="#463cde" stroke="#000" stroke-width="0.35" stroke-linejoin="round"/>
<polygon points="77.63,204.51 71.90,198.44 82.12,213.57" fill="#d3c300" stroke="#000" stroke-width="0.35" stroke-linejoin="round"/>
<polygon points="92.34,232.05 98.07,238.34 87.85,221.88" fill="#06c7a3" stroke="#000" stroke-width="0.35" stroke-linejoin="round"/>
<polygon points="41.24,240.20 35.51,248.28 45.73,235.11" fill="#4741e5" stroke="#000" stroke-width="0.35" stroke-linejoin="round"/>
<polygon points="55.95,213.78 61.68,200.33 51.46,220.75" fill="#0dc998" stroke="#000" stroke-width="0.35" stroke-linejoin="round"/>
<polygon points="87.85,221.88 82.12,213.57 92.34,232.05" fill="#b7c60a" stroke="#000" stroke-width="0.35" stroke-linejoin="round"/>
<polygon points="102.56,246.50 108.29,248.91 98.07,238.34" fill="#2675ff" stroke="#000" stroke-width="0.35" stroke-linejoin="round"/>
<polygon points="51.46,220.75 45.73,235.11 55.95,213.78" fill="#098cf0" stroke="#000" stroke-width="0.35" stroke-linejoin="round"/>
<polygon points="66.17,201.36 71.90,198.44 61.68,200.33" fill="#f9ff00" stroke="#000" stroke-width="0.35" stroke-linejoin="round"/>
<polygon points="29.78,253.40 35.51,248.28 25.29,251.44" fill="#422ec0" stroke="#000" stroke-width="0.35" stroke-linejoin="round"/>
<polygon points="98.07,238.34 92.34,232.05 102.56,246.50" fill="#00a4e6" stroke="#000" stroke-width="0.35" stroke-linejoin="round"/>
<polygon points="112.78,253.74 118.51,252.67 108.29,248.91" fill="#463cde" stroke="#000" stroke-width="0.35" stroke-linejoin="round"/>
<polygon points="61.68,200.33 55.95,213.78 66.17,201.36" fill="#ffc406" stroke="#000" stroke-width="0.35" stroke-linejoin="round"/>
<polygon points="76.39,209.09 82.12,213.57 71.90,198.44" fill="#d3c300" stroke="#000" stroke-width="0.35" stroke-linejoin="round"/>
<polygon points="40.00,247.18 45.73,235.11 35.51,248.28" fill="#4741e5" stroke="#000" stroke-width="0.35" stroke-linejoin="round"/>
<polygon points="108.29,248.91 102.56,246.50 112.78,253.74" fill="#4758f8" stroke="#000" stroke-width="0.35" stroke-linejoin="round"/>
<polygon points="71.90,198.44 66.17,201.36 76.39,209.09" fill="#f7fc00" stroke="#000" stroke-width="0.35" stroke-linejoin="round"/>
<polygon points="86.61,226.54 92.34,232.05 82.12,213.57" fill="#b7c60a" stroke="#000" stroke-width="0.35" stroke-linejoin="round"/>
<polygon points="35.51,248.28 29.78,253.40 40.00,247.18" fill="#4332cb" stroke="#000" stroke-width="0.35" stroke-linejoin="round"/>
<polygon points="50.22,231.40 55.95,213.78 45.73,235.11" fill="#098cf0" stroke="#000" stroke-width="0.35" stroke-linejoin="round"/>
<polygon points="118.51,252.67 112.78,253.74 123.00,255.57" fill="#4332cb" stroke="#000" stroke-width="0.35" stroke-linejoin="round"/>
<polygon points="82.12,213.57 76.39,209.09 86.61,226.54" fill="#c7c501" stroke="#000" stroke-width="0.35" stroke-linejoin="round"/>
<polygon points="96.83,243.06 102.56,246.50 92.34,232.05" fill="#00a4e6" stroke="#000" stroke-width="0.35" stroke-linejoin="round"/>
<polygon points="45.73,235.11 40.00,247.18 50.22,231.40" fill="#4758f8" stroke="#000" stroke-width="0.35" stroke-linejoin="round"/>
<polygon points="60.44,214.39 66.17,201.36 55.95,213.78" fill="#ffc406" stroke="#000" stroke-width="0.35" stroke-linejoin="round"/>
<polygon points="92.34,232.05 86.61,226.54 96.83,243.06" fill="#06c7a3" stroke="#000" stroke-width="0.35" stroke-linejoin="round"/>
<polygon points="107.05,253.65 112.78,253.74 102.56,246.50" fill="#4758f8" stroke="#000" stroke-width="0.35" stroke-linejoin="round"/>
<polygon points="55.95,213.78 50.22,231.40 60.44,214.39" fill="#00c3b7" stroke="#000" stroke-width="0.35" stroke-linejoin="round"/>
<polygon points="70.66,211.93 76.39,209.09 66.17,201.36" fill="#f7fc00" stroke="#000" stroke-width="0.35" stroke-linejoin="round"/>
<polygon points="34.27,254.84 40.00,247.18 29.78,253.40" fill="#4332cb" stroke="#000" stroke-width="0.35" stroke-linejoin="round"/>
<polygon points="102.56,246.50 96.83,243.06 107.05,253.65" fill="#2675ff" stroke="#000" stroke-width="0.35" stroke-linejoin="round"/>
<polygon points="117.27,257.41 123.00,255.57 112.78,253.74" fill="#4332cb" stroke="#000" stroke-width="0.35" stroke-linejoin="round"/>
<polygon points="66.17,201.36 60.44,214.39 70.66,211.93" fill="#ffc406" stroke="#000" stroke-width="0.35" stroke-linejoin="round"/>
<polygon points="80.88,224.22 86.61,226.54 76.39,209.09" fill="#c7c501" stroke="#000" stroke-width="0.35" stroke-linejoin="round"/>
<polygon points="44.49,246.55 50.22,231.40 40.00,247.18" fill="#4758f8" stroke="#000" stroke-width="0.35" stroke-linejoin="round"/>
<polygon points="112.78,253.74 107.05,253.65 117.27,257.41" fill="#463cde" stroke="#000" stroke-width="0.35" stroke-linejoin="round"/>
<polygon points="76.39,209.09 70.66,211.93 80.88,224.22" fill="#ffbd0c" stroke="#000" stroke-width="0.35" stroke-linejoin="round"/>
<polygon points="91.10,240.23 96.83,243.06 86.61,226.54" fill="#06c7a3" stroke="#000" stroke-width="0.35" stroke-linejoin="round"/>
<polygon points="40.00,247.18 34.27,254.84 44.49,246.55" fill="#4537d5" stroke="#000" stroke-width="0.35" stroke-linejoin="round"/>
<polygon points="54.71,232.28 60.44,214.39 50.22,231.40" fill="#00c3b7" stroke="#000" stroke-width="0.35" stroke-linejoin="round"/>
<polygon points="86.61,226.54 80.88,224.22 91.10,240.23" fill="#3acf67" stroke="#000" stroke-width="0.35" stroke-linejoin="round"/>
<polygon points="101.32,252.78 107.05,253.65 96.83,243.06" fill="#2675ff" stroke="#000" stroke-width="0.35" stroke-linejoin="round"/>
<polygon points="50.22,231.40 44.49,246.55 54.71,232.28" fill="#00c0c0" stroke="#000" stroke-width="0.35" stroke-linejoin="round"/>
<polygon points="64.93,223.04 70.66,211.93 60.44,214.39" fill="#ffc406" stroke="#000" stroke-width="0.35" stroke-linejoin="round"/>
<polygon points="96.83,243.06 91.10,240.23 101.32,252.78" fill="#098cf0" stroke="#000" stroke-width="0.35" stroke-linejoin="round"/>
<polygon points="111.54,258.81 117.27,257.41 107.05,253.65" fill="#463cde" stroke="#000" stroke-width="0.35" stroke-linejoin="round"/>
<polygon points="60.44,214.39 54.71,232.28 64.93,223.04" fill="#00c3b7" stroke="#000" stroke-width="0.35" stroke-linejoin="round"/>
<polygon points="75.15,227.29 80.88,224.22 70.66,211.93" fill="#00c5ad" stroke="#000" stroke-width="0.35" stroke-linejoin="round"/>
<polygon points="38.76,256.31 44.49,246.55 34.27,254.84" fill="#4537d5" stroke="#000" stroke-width="0.35" stroke-linejoin="round"/>
<polygon points="107.05,253.65 101.32,252.78 111.54,258.81" fill="#484df0" stroke="#000" stroke-width="0.35" stroke-linejoin="round"/>
<polygon points="70.66,211.93 64.93,223.04 75.15,227.29" fill="#00c5ad" stroke="#000" stroke-width="0.35" stroke-linejoin="round"/>
<polygon points="85.37,239.75 91.10,240.23 80.88,224.22" fill="#3acf67" stroke="#000" stroke-width="0.35" stroke-linejoin="round"/>
<polygon points="48.98,248.12 54.71,232.28 44.49,246.55" fill="#3a6cff" stroke="#000" stroke-width="0.35" stroke-linejoin="round"/>
<polygon points="80.88,224.22 75.15,227.29 85.37,239.75" fill="#00c5ad" stroke="#000" stroke-width="0.35" stroke-linejoin="round"/>
<polygon points="95.59,252.18 101.32,252.78 91.10,240.23" fill="#098cf0" stroke="#000" stroke-width="0.35" stroke-linejoin="round"/>
<polygon points="44.49,246.55 38.76,256.31 48.98,248.12" fill="#4741e5" stroke="#000" stroke-width="0.35" stroke-linejoin="round"/>
<polygon points="59.20,238.46 64.93,223.04 54.71,232.28" fill="#00a4e6" stroke="#000" stroke-width="0.35" stroke-linejoin="round"/>
<polygon points="91.10,240.23 85.37,239.75 95.59,252.18" fill="#009de9" stroke="#000" stroke-width="0.35" stroke-linejoin="round"/>
<polygon points="105.81,259.80 111.54,258.81 101.32,252.78" fill="#484df0" stroke="#000" stroke-width="0.35" stroke-linejoin="round"/>
<polygon points="54.71,232.28 48.98,248.12 59.20,238.46" fill="#3070ff" stroke="#000" stroke-width="0.35" stroke-linejoin="round"/>
<polygon points="69.42,236.10 75.15,227.29 64.93,223.04" fill="#3acf67" stroke="#000" stroke-width="0.35" stroke-linejoin="round"/>
<polygon points="101.32,252.78 95.59,252.18 105.81,259.80" fill="#465efb" stroke="#000" stroke-width="0.35" stroke-linejoin="round"/>
<polygon points="64.93,223.04 59.20,238.46 69.42,236.10" fill="#3acf67" stroke="#000" stroke-width="0.35" stroke-linejoin="round"/>
<polygon points="79.64,242.87 85.37,239.75 75.15,227.29" fill="#1e79fd" stroke="#000" stroke-width="0.35" stroke-linejoin="round"/>
<polygon points="43.25,258.53 48.98,248.12 38.76,256.31" fill="#4741e5" stroke="#000" stroke-width="0.35" stroke-linejoin="round"/>
<polygon points="75.15,227.29 69.42,236.10 79.64,242.87" fill="#1e79fd" stroke="#000" stroke-width="0.35" stroke-linejoin="round"/>
<polygon points="89.86,252.98 95.59,252.18 85.37,239.75" fill="#009de9" stroke="#000" stroke-width="0.35" stroke-linejoin="round"/>
<polygon points="53.47,252.44 59.20,238.46 48.98,248.12" fill="#3070ff" stroke="#000" stroke-width="0.35" stroke-linejoin="round"/>
<polygon points="85.37,239.75 79.64,242.87 89.86,252.98" fill="#0097ea" stroke="#000" stroke-width="0.35" stroke-linejoin="round"/>
<polygon points="100.08,260.80 105.81,259.80 95.59,252.18" fill="#465efb" stroke="#000" stroke-width="0.35" stroke-linejoin="round"/>
<polygon points="48.98,248.12 43.25,258.53 53.47,252.44" fill="#4741e5" stroke="#000" stroke-width="0.35" stroke-linejoin="round"/>
<polygon points="63.69,247.86 69.42,236.10 59.20,238.46" fill="#00b7d5" stroke="#000" stroke-width="0.35" stroke-linejoin="round"/>
<polygon points="95.59,252.18 89.86,252.98 100.08,260.80" fill="#4463fd" stroke="#000" stroke-width="0.35" stroke-linejoin="round"/>
<polygon points="59.20,238.46 53.47,252.44 63.69,247.86" fill="#187dfb" stroke="#000" stroke-width="0.35" stroke-linejoin="round"/>
<polygon points="73.91,249.45 79.64,242.87 69.42,236.10" fill="#1b7efa" stroke="#000" stroke-width="0.35" stroke-linejoin="round"/>
<polygon points="69.42,236.10 63.69,247.86 73.91,249.45" fill="#187dfb" stroke="#000" stroke-width="0.35" stroke-linejoin="round"/>
<polygon points="84.13,255.82 89.86,252.98 79.64,242.87" fill="#0097ea" stroke="#000" stroke-width="0.35" stroke-linejoin="round"/>
<polygon points="47.74,261.80 53.47,252.44 43.25,258.53" fill="#4741e5" stroke="#000" stroke-width="0.35" stroke-linejoin="round"/>
<polygon points="79.64,242.87 73.91,249.45 84.13,255.82" fill="#1b7efa" stroke="#000" stroke-width="0.35" stroke-linejoin="round"/>
<polygon points="94.35,262.36 100.08,260.80 89.86,252.98" fill="#4463fd" stroke="#000" stroke-width="0.35" stroke-linejoin="round"/>
<polygon points="57.96,258.55 63.69,247.86 53.47,252.44" fill="#4067fe" stroke="#000" stroke-width="0.35" stroke-linejoin="round"/>
<polygon points="89.86,252.98 84.13,255.82 94.35,262.36" fill="#4563fd" stroke="#000" stroke-width="0.35" stroke-linejoin="round"/>
<polygon points="53.47,252.44 47.74,261.80 57.96,258.55" fill="#4741e5" stroke="#000" stroke-width="0.35" stroke-linejoin="round"/>
<polygon points="68.18,257.60 73.91,249.45 63.69,247.86" fill="#187dfb" stroke="#000" stroke-width="0.35" stroke-linejoin="round"/>
<polygon points="63.69,247.86 57.96,258.55 68.18,257.60" fill="#4758f8" stroke="#000" stroke-width="0.35" stroke-linejoin="round"/>
<polygon points="78.40,260.42 84.13,255.82 73.91,249.45" fill="#1b7efa" stroke="#000" stroke-width="0.35" stroke-linejoin="round"/>
<polygon points="73.91,249.45 68.18,257.60 78.40,260.42" fill="#465efb" stroke="#000" stroke-width="0.35" stroke-linejoin="round"/>
<polygon points="88.62,264.79 94.35,262.36 84.13,255.82" fill="#4563fd" stroke="#000" stroke-width="0.35" stroke-linejoin="round"/>
<polygon points="52.23,265.74 57.96,258.55 47.74,261.80" fill="#4741e5" stroke="#000" stroke-width="0.35" stroke-linejoin="round"/>
<polygon points="84.13,255.82 78.40,260.42 88.62,264.79" fill="#4852f4" stroke="#000" stroke-width="0.35" stroke-linejoin="round"/>
<polygon points="62.45,264.81 68.18,257.60 57.96,258.55" fill="#4758f8" stroke="#000" stroke-width="0.35" stroke-linejoin="round"/>
<polygon points="57.96,258.55 52.23,265.74 62.45,264.81" fill="#4537d5" stroke="#000" stroke-width="0.35" stroke-linejoin="round"/>
<polygon points="72.67,265.57 78.40,260.42 68.18,257.60" fill="#465efb" stroke="#000" stroke-width="0.35" stroke-linejoin="round"/>
<polygon points="68.18,257.60 62.45,264.81 72.67,265.57" fill="#4741e5" stroke="#000" stroke-width="0.35" stroke-linejoin="round"/>
<polygon points="82.89,267.87 88.62,264.79 78.40,260.42" fill="#4852f4" stroke="#000" stroke-width="0.35" stroke-linejoin="round"/>
<polygon points="78.40,260.42 72.67,265.57 82.89,267.87" fill="#4741e5" stroke="#000" stroke-width="0.35" stroke-linejoin="round"/>
<polygon points="56.72,269.65 62.45,264.81 52.23,265.74" fill="#4537d5" stroke="#000" stroke-width="0.35" stroke-linejoin="round"/>
<polygon points="66.94,269.96 72.67,265.57 62.45,264.81" fill="#4741e5" stroke="#000" stroke-width="0.35" stroke-linejoin="round"/>
<polygon points="62.45,264.81 56.72,269.65 66.94,269.96" fill="#4332cb" stroke="#000" stroke-width="0.35" stroke-linejoin="round"/>
<polygon points="77.16,271.00 82.89,267.87 72.67,265.57" fill="#4741e5" stroke="#000" stroke-width="0.35" stroke-linejoin="round"/>
<polygon points="72.67,265.57 66.94,269.96 77.16,271.00" fill="#4332cb" stroke="#000" stroke-width="0.35" stroke-linejoin="round"/>
<polygon points="61.21,273.05 66.94,269.96 56.72,269.65" fill="#4332cb" stroke="#000" stroke-width="0.35" stroke-linejoin="round"/>
<polygon points="71.43,273.71 77.16,271.00 66.94,269.96" fill="#4332cb" stroke="#000" stroke-width="0.35" stroke-linejoin="round"/>
<polygon points="66.94,269.96 61.21,273.05 71.43,273.71" fill="#422ec0" stroke="#000" stroke-width="0.35" stroke-linejoin="round"/>
<polygon points="65.70,275.97 71.43,273.71 61.21,273.05" fill="#422ec0" stroke="#000" stroke-width="0.35" stroke-linejoin="round"/>
<line x1="20.80" y1="249.00" x2="20.80" y2="193.40" stroke="#5c5c5c" stroke-width="0.7"/>
<line x1="20.80" y1="249.00" x2="65.70" y2="276.00" stroke="#5c5c5c" stroke-width="0.6"/>
<line x1="65.70" y1="276.00" x2="123.00" y2="255.60" stroke="#5c5c5c" stroke-width="0.6"/>
<line x1="20.30" y1="249.00" x2="21.70" y2="249.00" stroke="#5c5c5c" stroke-width="0.5"/>
<text x="17.20" y="250.00" font-size="5.2" text-anchor="end" font-weight="normal" fill="#626262" font-family="Liberation Sans, sans-serif">0</text>
<line x1="20.30" y1="221.20" x2="21.70" y2="221.20" stroke="#5c5c5c" stroke-width="0.5"/>
<text x="17.20" y="222.20" font-size="5.2" text-anchor="end" font-weight="normal" fill="#626262" font-family="Liberation Sans, sans-serif">0.5</text>
<line x1="20.30" y1="193.40" x2="21.70" y2="193.40" stroke="#5c5c5c" stroke-width="0.5"/>
<text x="17.20" y="194.40" font-size="5.2" text-anchor="end" font-weight="normal" fill="#626262" font-family="Liberation Sans, sans-serif">1</text>
<line x1="65.70" y1="276.00" x2="64.67" y2="275.38" stroke="#5c5c5c" stroke-width="0.5"/>
<text x="70.10" y="283.70" font-size="5.2" text-anchor="middle" font-weight="normal" fill="#626262" font-family="Liberation Sans, sans-serif">-5</text>
<line x1="94.35" y1="265.80" x2="93.32" y2="265.18" stroke="#5c5c5c" stroke-width="0.5"/>
<text x="99.25" y="273.50" font-size="5.2" text-anchor="middle" font-weight="normal" fill="#626262" font-family="Liberation Sans, sans-serif">0</text>
<line x1="123.00" y1="255.60" x2="121.97" y2="254.98" stroke="#5c5c5c" stroke-width="0.5"/>
<text x="127.90" y="263.30" font-size="5.2" text-anchor="middle" font-weight="normal" fill="#626262" font-family="Liberation Sans, sans-serif">5</text>
<line x1="65.70" y1="276.00" x2="66.83" y2="275.60" stroke="#5c5c5c" stroke-width="0.5"/>
<text x="59.60" y="283.20" font-size="5.2" text-anchor="middle" font-weight="normal" fill="#626262" font-family="Liberation Sans, sans-serif">-5</text>
<line x1="43.25" y1="262.50" x2="44.38" y2="262.10" stroke="#5c5c5c" stroke-width="0.5"/>
<text x="37.65" y="269.70" font-size="5.2" text-anchor="middle" font-weight="normal" fill="#626262" font-family="Liberation Sans, sans-serif">0</text>
<line x1="20.80" y1="249.00" x2="21.93" y2="248.60" stroke="#5c5c5c" stroke-width="0.5"/>
<text x="15.20" y="256.20" font-size="5.2" text-anchor="middle" font-weight="normal" fill="#626262" font-family="Liberation Sans, sans-serif">5</text>
<text x="72.20" y="161.40" font-size="5.75" text-anchor="middle" font-weight="bold" fill="#000" font-family="Liberation Sans, sans-serif" stroke="#000" stroke-width="0.12">Interpolation Peak</text>
<text x="72.20" y="168.60" font-size="5.75" text-anchor="middle" font-weight="bold" fill="#000" font-family="Liberation Sans, sans-serif" stroke="#000" stroke-width="0.12">Nbd=11x11 <tspan font-style="italic">r</tspan><tspan font-size="5.0" dy="2.3" dx="0.2">b</tspan><tspan dy="-2.3" dx="0.5">=0</tspan></text>
<line x1="202.60" y1="276.00" x2="157.70" y2="249.00" stroke="#e2e2e2" stroke-width="0.5"/>
<line x1="231.25" y1="265.80" x2="186.35" y2="238.80" stroke="#e2e2e2" stroke-width="0.5"/>
<line x1="259.90" y1="255.60" x2="215.00" y2="228.60" stroke="#e2e2e2" stroke-width="0.5"/>
<line x1="202.60" y1="276.00" x2="259.90" y2="255.60" stroke="#e2e2e2" stroke-width="0.5"/>
<line x1="180.15" y1="262.50" x2="237.45" y2="242.10" stroke="#e2e2e2" stroke-width="0.5"/>
<line x1="157.70" y1="249.00" x2="215.00" y2="228.60" stroke="#e2e2e2" stroke-width="0.5"/>
<line x1="157.70" y1="249.00" x2="157.70" y2="193.40" stroke="#e2e2e2" stroke-width="0.5"/>
<line x1="186.35" y1="238.80" x2="186.35" y2="183.20" stroke="#e2e2e2" stroke-width="0.5"/>
<line x1="215.00" y1="228.60" x2="215.00" y2="173.00" stroke="#e2e2e2" stroke-width="0.5"/>
<line x1="259.90" y1="255.60" x2="259.90" y2="200.00" stroke="#e2e2e2" stroke-width="0.5"/>
<line x1="237.45" y1="242.10" x2="237.45" y2="186.50" stroke="#e2e2e2" stroke-width="0.5"/>
<line x1="215.00" y1="228.60" x2="215.00" y2="173.00" stroke="#e2e2e2" stroke-width="0.5"/>
<line x1="157.70" y1="249.00" x2="215.00" y2="228.60" stroke="#e2e2e2" stroke-width="0.5"/>
<line x1="215.00" y1="228.60" x2="259.90" y2="255.60" stroke="#e2e2e2" stroke-width="0.5"/>
<line x1="157.70" y1="221.20" x2="215.00" y2="200.80" stroke="#e2e2e2" stroke-width="0.5"/>
<line x1="215.00" y1="200.80" x2="259.90" y2="227.80" stroke="#e2e2e2" stroke-width="0.5"/>
<line x1="157.70" y1="193.40" x2="215.00" y2="173.00" stroke="#e2e2e2" stroke-width="0.5"/>
<line x1="215.00" y1="173.00" x2="259.90" y2="200.00" stroke="#e2e2e2" stroke-width="0.5"/>
<polygon points="215.00,228.57 209.27,230.39 219.49,231.05" fill="#422ec0" stroke="#000" stroke-width="0.35" stroke-linejoin="round"/>
<polygon points="213.76,232.04 219.49,231.05 209.27,230.39" fill="#422ec0" stroke="#000" stroke-width="0.35" stroke-linejoin="round"/>
<polygon points="209.27,230.39 203.54,231.74 213.76,232.04" fill="#4332cb" stroke="#000" stroke-width="0.35" stroke-linejoin="round"/>
<polygon points="219.49,231.05 213.76,232.04 223.98,233.09" fill="#4332cb" stroke="#000" stroke-width="0.35" stroke-linejoin="round"/>
<polygon points="208.03,231.64 213.76,232.04 203.54,231.74" fill="#4332cb" stroke="#000" stroke-width="0.35" stroke-linejoin="round"/>
<polygon points="203.54,231.74 197.81,232.57 208.03,231.64" fill="#4537d5" stroke="#000" stroke-width="0.35" stroke-linejoin="round"/>
<polygon points="218.25,232.41 223.98,233.09 213.76,232.04" fill="#4332cb" stroke="#000" stroke-width="0.35" stroke-linejoin="round"/>
<polygon points="213.76,232.04 208.03,231.64 218.25,232.41" fill="#4741e5" stroke="#000" stroke-width="0.35" stroke-linejoin="round"/>
<polygon points="223.98,233.09 218.25,232.41 228.47,234.69" fill="#4741e5" stroke="#000" stroke-width="0.35" stroke-linejoin="round"/>
<polygon points="202.30,230.15 208.03,231.64 197.81,232.57" fill="#4537d5" stroke="#000" stroke-width="0.35" stroke-linejoin="round"/>
<polygon points="197.81,232.57 192.08,233.37 202.30,230.15" fill="#4741e5" stroke="#000" stroke-width="0.35" stroke-linejoin="round"/>
<polygon points="212.52,229.22 218.25,232.41 208.03,231.64" fill="#4741e5" stroke="#000" stroke-width="0.35" stroke-linejoin="round"/>
<polygon points="208.03,231.64 202.30,230.15 212.52,229.22" fill="#4758f8" stroke="#000" stroke-width="0.35" stroke-linejoin="round"/>
<polygon points="222.74,232.01 228.47,234.69 218.25,232.41" fill="#4741e5" stroke="#000" stroke-width="0.35" stroke-linejoin="round"/>
<polygon points="218.25,232.41 212.52,229.22 222.74,232.01" fill="#465efb" stroke="#000" stroke-width="0.35" stroke-linejoin="round"/>
<polygon points="196.57,228.80 202.30,230.15 192.08,233.37" fill="#4741e5" stroke="#000" stroke-width="0.35" stroke-linejoin="round"/>
<polygon points="228.47,234.69 222.74,232.01 232.96,236.36" fill="#4852f4" stroke="#000" stroke-width="0.35" stroke-linejoin="round"/>
<polygon points="192.08,233.37 186.35,234.84 196.57,228.80" fill="#4741e5" stroke="#000" stroke-width="0.35" stroke-linejoin="round"/>
<polygon points="206.79,224.28 212.52,229.22 202.30,230.15" fill="#4758f8" stroke="#000" stroke-width="0.35" stroke-linejoin="round"/>
<polygon points="202.30,230.15 196.57,228.80 206.79,224.28" fill="#4067fe" stroke="#000" stroke-width="0.35" stroke-linejoin="round"/>
<polygon points="217.01,225.87 222.74,232.01 212.52,229.22" fill="#465efb" stroke="#000" stroke-width="0.35" stroke-linejoin="round"/>
<polygon points="212.52,229.22 206.79,224.28 217.01,225.87" fill="#187dfb" stroke="#000" stroke-width="0.35" stroke-linejoin="round"/>
<polygon points="227.23,232.18 232.96,236.36 222.74,232.01" fill="#4852f4" stroke="#000" stroke-width="0.35" stroke-linejoin="round"/>
<polygon points="190.84,229.22 196.57,228.80 186.35,234.84" fill="#4741e5" stroke="#000" stroke-width="0.35" stroke-linejoin="round"/>
<polygon points="222.74,232.01 217.01,225.87 227.23,232.18" fill="#1d78fd" stroke="#000" stroke-width="0.35" stroke-linejoin="round"/>
<polygon points="186.35,234.84 180.62,237.36 190.84,229.22" fill="#4741e5" stroke="#000" stroke-width="0.35" stroke-linejoin="round"/>
<polygon points="201.06,219.66 206.79,224.28 196.57,228.80" fill="#4067fe" stroke="#000" stroke-width="0.35" stroke-linejoin="round"/>
<polygon points="232.96,236.36 227.23,232.18 237.45,238.68" fill="#4563fd" stroke="#000" stroke-width="0.35" stroke-linejoin="round"/>
<polygon points="196.57,228.80 190.84,229.22 201.06,219.66" fill="#3070ff" stroke="#000" stroke-width="0.35" stroke-linejoin="round"/>
<polygon points="211.28,217.35 217.01,225.87 206.79,224.28" fill="#187dfb" stroke="#000" stroke-width="0.35" stroke-linejoin="round"/>
<polygon points="206.79,224.28 201.06,219.66 211.28,217.35" fill="#00aae1" stroke="#000" stroke-width="0.35" stroke-linejoin="round"/>
<polygon points="221.50,224.05 227.23,232.18 217.01,225.87" fill="#1d78fd" stroke="#000" stroke-width="0.35" stroke-linejoin="round"/>
<polygon points="185.11,232.37 190.84,229.22 180.62,237.36" fill="#4741e5" stroke="#000" stroke-width="0.35" stroke-linejoin="round"/>
<polygon points="217.01,225.87 211.28,217.35 221.50,224.05" fill="#00bec7" stroke="#000" stroke-width="0.35" stroke-linejoin="round"/>
<polygon points="231.72,234.07 237.45,238.68 227.23,232.18" fill="#4563fd" stroke="#000" stroke-width="0.35" stroke-linejoin="round"/>
<polygon points="180.62,237.36 174.89,240.63 185.11,232.37" fill="#4537d5" stroke="#000" stroke-width="0.35" stroke-linejoin="round"/>
<polygon points="195.33,218.21 201.06,219.66 190.84,229.22" fill="#3070ff" stroke="#000" stroke-width="0.35" stroke-linejoin="round"/>
<polygon points="227.23,232.18 221.50,224.05 231.72,234.07" fill="#0097ea" stroke="#000" stroke-width="0.35" stroke-linejoin="round"/>
<polygon points="190.84,229.22 185.11,232.37 195.33,218.21" fill="#3a6cff" stroke="#000" stroke-width="0.35" stroke-linejoin="round"/>
<polygon points="205.55,209.09 211.28,217.35 201.06,219.66" fill="#00aae1" stroke="#000" stroke-width="0.35" stroke-linejoin="round"/>
<polygon points="237.45,238.68 231.72,234.07 241.94,241.84" fill="#4563fd" stroke="#000" stroke-width="0.35" stroke-linejoin="round"/>
<polygon points="201.06,219.66 195.33,218.21 205.55,209.09" fill="#00bec7" stroke="#000" stroke-width="0.35" stroke-linejoin="round"/>
<polygon points="215.77,213.32 221.50,224.05 211.28,217.35" fill="#00bec7" stroke="#000" stroke-width="0.35" stroke-linejoin="round"/>
<polygon points="179.38,237.72 185.11,232.37 174.89,240.63" fill="#4537d5" stroke="#000" stroke-width="0.35" stroke-linejoin="round"/>
<polygon points="211.28,217.35 205.55,209.09 215.77,213.32" fill="#6fce3c" stroke="#000" stroke-width="0.35" stroke-linejoin="round"/>
<polygon points="225.99,225.65 231.72,234.07 221.50,224.05" fill="#0097ea" stroke="#000" stroke-width="0.35" stroke-linejoin="round"/>
<polygon points="174.89,240.63 169.16,243.92 179.38,237.72" fill="#4332cb" stroke="#000" stroke-width="0.35" stroke-linejoin="round"/>
<polygon points="189.60,222.00 195.33,218.21 185.11,232.37" fill="#3a6cff" stroke="#000" stroke-width="0.35" stroke-linejoin="round"/>
<polygon points="221.50,224.05 215.77,213.32 225.99,225.65" fill="#2acf74" stroke="#000" stroke-width="0.35" stroke-linejoin="round"/>
<polygon points="236.21,238.00 241.94,241.84 231.72,234.07" fill="#4563fd" stroke="#000" stroke-width="0.35" stroke-linejoin="round"/>
<polygon points="185.11,232.37 179.38,237.72 189.60,222.00" fill="#4758f8" stroke="#000" stroke-width="0.35" stroke-linejoin="round"/>
<polygon points="199.82,205.14 205.55,209.09 195.33,218.21" fill="#00bec7" stroke="#000" stroke-width="0.35" stroke-linejoin="round"/>
<polygon points="231.72,234.07 225.99,225.65 236.21,238.00" fill="#009de8" stroke="#000" stroke-width="0.35" stroke-linejoin="round"/>
<polygon points="195.33,218.21 189.60,222.00 199.82,205.14" fill="#00b7d5" stroke="#000" stroke-width="0.35" stroke-linejoin="round"/>
<polygon points="210.04,202.74 215.77,213.32 205.55,209.09" fill="#6fce3c" stroke="#000" stroke-width="0.35" stroke-linejoin="round"/>
<polygon points="173.65,243.54 179.38,237.72 169.16,243.92" fill="#4332cb" stroke="#000" stroke-width="0.35" stroke-linejoin="round"/>
<polygon points="241.94,241.84 236.21,238.00 246.43,245.58" fill="#465efb" stroke="#000" stroke-width="0.35" stroke-linejoin="round"/>
<polygon points="205.55,209.09 199.82,205.14 210.04,202.74" fill="#dfc200" stroke="#000" stroke-width="0.35" stroke-linejoin="round"/>
<polygon points="220.26,214.92 225.99,225.65 215.77,213.32" fill="#2acf74" stroke="#000" stroke-width="0.35" stroke-linejoin="round"/>
<polygon points="169.16,243.92 163.43,246.70 173.65,243.54" fill="#422ec0" stroke="#000" stroke-width="0.35" stroke-linejoin="round"/>
<polygon points="183.87,230.39 189.60,222.00 179.38,237.72" fill="#4758f8" stroke="#000" stroke-width="0.35" stroke-linejoin="round"/>
<polygon points="215.77,213.32 210.04,202.74 220.26,214.92" fill="#ffbd0c" stroke="#000" stroke-width="0.35" stroke-linejoin="round"/>
<polygon points="230.48,230.82 236.21,238.00 225.99,225.65" fill="#009de8" stroke="#000" stroke-width="0.35" stroke-linejoin="round"/>
<polygon points="179.38,237.72 173.65,243.54 183.87,230.39" fill="#4741e5" stroke="#000" stroke-width="0.35" stroke-linejoin="round"/>
<polygon points="194.09,209.14 199.82,205.14 189.60,222.00" fill="#00b7d5" stroke="#000" stroke-width="0.35" stroke-linejoin="round"/>
<polygon points="225.99,225.65 220.26,214.92 230.48,230.82" fill="#3acf67" stroke="#000" stroke-width="0.35" stroke-linejoin="round"/>
<polygon points="240.70,243.31 246.43,245.58 236.21,238.00" fill="#465efb" stroke="#000" stroke-width="0.35" stroke-linejoin="round"/>
<polygon points="189.60,222.00 183.87,230.39 194.09,209.14" fill="#0a8cf0" stroke="#000" stroke-width="0.35" stroke-linejoin="round"/>
<polygon points="204.31,196.81 210.04,202.74 199.82,205.14" fill="#dfc200" stroke="#000" stroke-width="0.35" stroke-linejoin="round"/>
<polygon points="167.92,248.25 173.65,243.54 163.43,246.70" fill="#422ec0" stroke="#000" stroke-width="0.35" stroke-linejoin="round"/>
<polygon points="236.21,238.00 230.48,230.82 240.70,243.31" fill="#098cf0" stroke="#000" stroke-width="0.35" stroke-linejoin="round"/>
<polygon points="199.82,205.14 194.09,209.14 204.31,196.81" fill="#c7c501" stroke="#000" stroke-width="0.35" stroke-linejoin="round"/>
<polygon points="214.53,204.51 220.26,214.92 210.04,202.74" fill="#ffbd0c" stroke="#000" stroke-width="0.35" stroke-linejoin="round"/>
<polygon points="163.43,246.70 157.70,248.97 167.92,248.25" fill="#422ec0" stroke="#000" stroke-width="0.35" stroke-linejoin="round"/>
<polygon points="178.14,240.20 183.87,230.39 173.65,243.54" fill="#4741e5" stroke="#000" stroke-width="0.35" stroke-linejoin="round"/>
<polygon points="246.43,245.58 240.70,243.31 250.92,249.33" fill="#484df0" stroke="#000" stroke-width="0.35" stroke-linejoin="round"/>
<polygon points="210.04,202.74 204.31,196.81 214.53,204.51" fill="#f9ff00" stroke="#000" stroke-width="0.35" stroke-linejoin="round"/>
<polygon points="224.75,221.88 230.48,230.82 220.26,214.92" fill="#3acf67" stroke="#000" stroke-width="0.35" stroke-linejoin="round"/>
<polygon points="173.65,243.54 167.92,248.25 178.14,240.20" fill="#4332cb" stroke="#000" stroke-width="0.35" stroke-linejoin="round"/>
<polygon points="188.36,220.75 194.09,209.14 183.87,230.39" fill="#0a8cf0" stroke="#000" stroke-width="0.35" stroke-linejoin="round"/>
<polygon points="220.26,214.92 214.53,204.51 224.75,221.88" fill="#ffc406" stroke="#000" stroke-width="0.35" stroke-linejoin="round"/>
<polygon points="234.97,238.34 240.70,243.31 230.48,230.82" fill="#098cf0" stroke="#000" stroke-width="0.35" stroke-linejoin="round"/>
<polygon points="183.87,230.39 178.14,240.20 188.36,220.75" fill="#4463fd" stroke="#000" stroke-width="0.35" stroke-linejoin="round"/>
<polygon points="198.58,200.33 204.31,196.81 194.09,209.14" fill="#c7c501" stroke="#000" stroke-width="0.35" stroke-linejoin="round"/>
<polygon points="162.19,251.44 167.92,248.25 157.70,248.97" fill="#422ec0" stroke="#000" stroke-width="0.35" stroke-linejoin="round"/>
<polygon points="230.48,230.82 224.75,221.88 234.97,238.34" fill="#06c7a3" stroke="#000" stroke-width="0.35" stroke-linejoin="round"/>
<polygon points="245.19,248.91 250.92,249.33 240.70,243.31" fill="#484df0" stroke="#000" stroke-width="0.35" stroke-linejoin="round"/>
<polygon points="194.09,209.14 188.36,220.75 198.58,200.33" fill="#0dc998" stroke="#000" stroke-width="0.35" stroke-linejoin="round"/>
<polygon points="208.80,198.44 214.53,204.51 204.31,196.81" fill="#f9ff00" stroke="#000" stroke-width="0.35" stroke-linejoin="round"/>
<polygon points="172.41,248.28 178.14,240.20 167.92,248.25" fill="#4332cb" stroke="#000" stroke-width="0.35" stroke-linejoin="round"/>
<polygon points="240.70,243.31 234.97,238.34 245.19,248.91" fill="#2675ff" stroke="#000" stroke-width="0.35" stroke-linejoin="round"/>
<polygon points="204.31,196.81 198.58,200.33 208.80,198.44" fill="#f9ff00" stroke="#000" stroke-width="0.35" stroke-linejoin="round"/>
<polygon points="219.02,213.57 224.75,221.88 214.53,204.51" fill="#ffc406" stroke="#000" stroke-width="0.35" stroke-linejoin="round"/>
<polygon points="167.92,248.25 162.19,251.44 172.41,248.28" fill="#422ec0" stroke="#000" stroke-width="0.35" stroke-linejoin="round"/>
<polygon points="182.63,235.11 188.36,220.75 178.14,240.20" fill="#4463fd" stroke="#000" stroke-width="0.35" stroke-linejoin="round"/>
<polygon points="250.92,249.33 245.19,248.91 255.41,252.67" fill="#463cde" stroke="#000" stroke-width="0.35" stroke-linejoin="round"/>
<polygon points="214.53,204.51 208.80,198.44 219.02,213.57" fill="#d3c300" stroke="#000" stroke-width="0.35" stroke-linejoin="round"/>
<polygon points="229.24,232.05 234.97,238.34 224.75,221.88" fill="#06c7a3" stroke="#000" stroke-width="0.35" stroke-linejoin="round"/>
<polygon points="178.14,240.20 172.41,248.28 182.63,235.11" fill="#4741e5" stroke="#000" stroke-width="0.35" stroke-linejoin="round"/>
<polygon points="192.85,213.78 198.58,200.33 188.36,220.75" fill="#0dc998" stroke="#000" stroke-width="0.35" stroke-linejoin="round"/>
<polygon points="224.75,221.88 219.02,213.57 229.24,232.05" fill="#b7c60a" stroke="#000" stroke-width="0.35" stroke-linejoin="round"/>
<polygon points="239.46,246.50 245.19,248.91 234.97,238.34" fill="#2675ff" stroke="#000" stroke-width="0.35" stroke-linejoin="round"/>
<polygon points="188.36,220.75 182.63,235.11 192.85,213.78" fill="#098cf0" stroke="#000" stroke-width="0.35" stroke-linejoin="round"/>
<polygon points="203.07,201.36 208.80,198.44 198.58,200.33" fill="#f9ff00" stroke="#000" stroke-width="0.35" stroke-linejoin="round"/>
<polygon points="166.68,253.40 172.41,248.28 162.19,251.44" fill="#422ec0" stroke="#000" stroke-width="0.35" stroke-linejoin="round"/>
<polygon points="234.97,238.34 229.24,232.05 239.46,246.50" fill="#00a4e6" stroke="#000" stroke-width="0.35" stroke-linejoin="round"/>
<polygon points="249.68,253.74 255.41,252.67 245.19,248.91" fill="#463cde" stroke="#000" stroke-width="0.35" stroke-linejoin="round"/>
<polygon points="198.58,200.33 192.85,213.78 203.07,201.36" fill="#ffc406" stroke="#000" stroke-width="0.35" stroke-linejoin="round"/>
<polygon points="213.29,209.09 219.02,213.57 208.80,198.44" fill="#d3c300" stroke="#000" stroke-width="0.35" stroke-linejoin="round"/>
<polygon points="176.90,247.18 182.63,235.11 172.41,248.28" fill="#4741e5" stroke="#000" stroke-width="0.35" stroke-linejoin="round"/>
<polygon points="245.19,248.91 239.46,246.50 249.68,253.74" fill="#4758f8" stroke="#000" stroke-width="0.35" stroke-linejoin="round"/>
<polygon points="208.80,198.44 203.07,201.36 213.29,209.09" fill="#f7fc00" stroke="#000" stroke-width="0.35" stroke-linejoin="round"/>
<polygon points="223.51,226.54 229.24,232.05 219.02,213.57" fill="#b7c60a" stroke="#000" stroke-width="0.35" stroke-linejoin="round"/>
<polygon points="172.41,248.28 166.68,253.40 176.90,247.18" fill="#4332cb" stroke="#000" stroke-width="0.35" stroke-linejoin="round"/>
<polygon points="187.12,231.40 192.85,213.78 182.63,235.11" fill="#098cf0" stroke="#000" stroke-width="0.35" stroke-linejoin="round"/>
<polygon points="255.41,252.67 249.68,253.74 259.90,255.57" fill="#4332cb" stroke="#000" stroke-width="0.35" stroke-linejoin="round"/>
<polygon points="219.02,213.57 213.29,209.09 223.51,226.54" fill="#c7c501" stroke="#000" stroke-width="0.35" stroke-linejoin="round"/>
<polygon points="233.73,243.06 239.46,246.50 229.24,232.05" fill="#00a4e6" stroke="#000" stroke-width="0.35" stroke-linejoin="round"/>
<polygon points="182.63,235.11 176.90,247.18 187.12,231.40" fill="#4758f8" stroke="#000" stroke-width="0.35" stroke-linejoin="round"/>
<polygon points="197.34,214.39 203.07,201.36 192.85,213.78" fill="#ffc406" stroke="#000" stroke-width="0.35" stroke-linejoin="round"/>
<polygon points="229.24,232.05 223.51,226.54 233.73,243.06" fill="#06c7a3" stroke="#000" stroke-width="0.35" stroke-linejoin="round"/>
<polygon points="243.95,253.65 249.68,253.74 239.46,246.50" fill="#4758f8" stroke="#000" stroke-width="0.35" stroke-linejoin="round"/>
<polygon points="192.85,213.78 187.12,231.40 197.34,214.39" fill="#00c3b7" stroke="#000" stroke-width="0.35" stroke-linejoin="round"/>
<polygon points="207.56,211.93 213.29,209.09 203.07,201.36" fill="#f7fc00" stroke="#000" stroke-width="0.35" stroke-linejoin="round"/>
<polygon points="171.17,254.84 176.90,247.18 166.68,253.40" fill="#4332cb" stroke="#000" stroke-width="0.35" stroke-linejoin="round"/>
<polygon points="239.46,246.50 233.73,243.06 243.95,253.65" fill="#2675ff" stroke="#000" stroke-width="0.35" stroke-linejoin="round"/>
<polygon points="254.17,257.41 259.90,255.57 249.68,253.74" fill="#4332cb" stroke="#000" stroke-width="0.35" stroke-linejoin="round"/>
<polygon points="203.07,201.36 197.34,214.39 207.56,211.93" fill="#ffc406" stroke="#000" stroke-width="0.35" stroke-linejoin="round"/>
<polygon points="217.78,224.22 223.51,226.54 213.29,209.09" fill="#c7c501" stroke="#000" stroke-width="0.35" stroke-linejoin="round"/>
<polygon points="181.39,246.55 187.12,231.40 176.90,247.18" fill="#4758f8" stroke="#000" stroke-width="0.35" stroke-linejoin="round"/>
<polygon points="249.68,253.74 243.95,253.65 254.17,257.41" fill="#463cde" stroke="#000" stroke-width="0.35" stroke-linejoin="round"/>
<polygon points="213.29,209.09 207.56,211.93 217.78,224.22" fill="#ffbd0c" stroke="#000" stroke-width="0.35" stroke-linejoin="round"/>
<polygon points="228.00,240.23 233.73,243.06 223.51,226.54" fill="#06c7a3" stroke="#000" stroke-width="0.35" stroke-linejoin="round"/>
<polygon points="176.90,247.18 171.17,254.84 181.39,246.55" fill="#4537d5" stroke="#000" stroke-width="0.35" stroke-linejoin="round"/>
<polygon points="191.61,232.28 197.34,214.39 187.12,231.40" fill="#00c3b7" stroke="#000" stroke-width="0.35" stroke-linejoin="round"/>
<polygon points="223.51,226.54 217.78,224.22 228.00,240.23" fill="#3acf67" stroke="#000" stroke-width="0.35" stroke-linejoin="round"/>
<polygon points="238.22,252.78 243.95,253.65 233.73,243.06" fill="#2675ff" stroke="#000" stroke-width="0.35" stroke-linejoin="round"/>
<polygon points="187.12,231.40 181.39,246.55 191.61,232.28" fill="#00c0c0" stroke="#000" stroke-width="0.35" stroke-linejoin="round"/>
<polygon points="201.83,223.04 207.56,211.93 197.34,214.39" fill="#ffc406" stroke="#000" stroke-width="0.35" stroke-linejoin="round"/>
<polygon points="233.73,243.06 228.00,240.23 238.22,252.78" fill="#098cf0" stroke="#000" stroke-width="0.35" stroke-linejoin="round"/>
<polygon points="248.44,258.81 254.17,257.41 243.95,253.65" fill="#463cde" stroke="#000" stroke-width="0.35" stroke-linejoin="round"/>
<polygon points="197.34,214.39 191.61,232.28 201.83,223.04" fill="#00c3b7" stroke="#000" stroke-width="0.35" stroke-linejoin="round"/>
<polygon points="212.05,227.29 217.78,224.22 207.56,211.93" fill="#00c5ad" stroke="#000" stroke-width="0.35" stroke-linejoin="round"/>
<polygon points="175.66,256.31 181.39,246.55 171.17,254.84" fill="#4537d5" stroke="#000" stroke-width="0.35" stroke-linejoin="round"/>
<polygon points="243.95,253.65 238.22,252.78 248.44,258.81" fill="#484df0" stroke="#000" stroke-width="0.35" stroke-linejoin="round"/>
<polygon points="207.56,211.93 201.83,223.04 212.05,227.29" fill="#00c5ad" stroke="#000" stroke-width="0.35" stroke-linejoin="round"/>
<polygon points="222.27,239.75 228.00,240.23 217.78,224.22" fill="#3acf67" stroke="#000" stroke-width="0.35" stroke-linejoin="round"/>
<polygon points="185.88,248.12 191.61,232.28 181.39,246.55" fill="#3a6cff" stroke="#000" stroke-width="0.35" stroke-linejoin="round"/>
<polygon points="217.78,224.22 212.05,227.29 222.27,239.75" fill="#00c5ad" stroke="#000" stroke-width="0.35" stroke-linejoin="round"/>
<polygon points="232.49,252.18 238.22,252.78 228.00,240.23" fill="#098cf0" stroke="#000" stroke-width="0.35" stroke-linejoin="round"/>
<polygon points="181.39,246.55 175.66,256.31 185.88,248.12" fill="#4741e5" stroke="#000" stroke-width="0.35" stroke-linejoin="round"/>
<polygon points="196.10,238.46 201.83,223.04 191.61,232.28" fill="#00a4e6" stroke="#000" stroke-width="0.35" stroke-linejoin="round"/>
<polygon points="228.00,240.23 222.27,239.75 232.49,252.18" fill="#009de9" stroke="#000" stroke-width="0.35" stroke-linejoin="round"/>
<polygon points="242.71,259.80 248.44,258.81 238.22,252.78" fill="#484df0" stroke="#000" stroke-width="0.35" stroke-linejoin="round"/>
<polygon points="191.61,232.28 185.88,248.12 196.10,238.46" fill="#3070ff" stroke="#000" stroke-width="0.35" stroke-linejoin="round"/>
<polygon points="206.32,236.10 212.05,227.29 201.83,223.04" fill="#3acf67" stroke="#000" stroke-width="0.35" stroke-linejoin="round"/>
<polygon points="238.22,252.78 232.49,252.18 242.71,259.80" fill="#465efb" stroke="#000" stroke-width="0.35" stroke-linejoin="round"/>
<polygon points="201.83,223.04 196.10,238.46 206.32,236.10" fill="#3acf67" stroke="#000" stroke-width="0.35" stroke-linejoin="round"/>
<polygon points="216.54,242.87 222.27,239.75 212.05,227.29" fill="#1e79fd" stroke="#000" stroke-width="0.35" stroke-linejoin="round"/>
<polygon points="180.15,258.53 185.88,248.12 175.66,256.31" fill="#4741e5" stroke="#000" stroke-width="0.35" stroke-linejoin="round"/>
<polygon points="212.05,227.29 206.32,236.10 216.54,242.87" fill="#1e79fd" stroke="#000" stroke-width="0.35" stroke-linejoin="round"/>
<polygon points="226.76,252.98 232.49,252.18 222.27,239.75" fill="#009de9" stroke="#000" stroke-width="0.35" stroke-linejoin="round"/>
<polygon points="190.37,252.44 196.10,238.46 185.88,248.12" fill="#3070ff" stroke="#000" stroke-width="0.35" stroke-linejoin="round"/>
<polygon points="222.27,239.75 216.54,242.87 226.76,252.98" fill="#0097ea" stroke="#000" stroke-width="0.35" stroke-linejoin="round"/>
<polygon points="236.98,260.80 242.71,259.80 232.49,252.18" fill="#465efb" stroke="#000" stroke-width="0.35" stroke-linejoin="round"/>
<polygon points="185.88,248.12 180.15,258.53 190.37,252.44" fill="#4741e5" stroke="#000" stroke-width="0.35" stroke-linejoin="round"/>
<polygon points="200.59,247.86 206.32,236.10 196.10,238.46" fill="#00b7d5" stroke="#000" stroke-width="0.35" stroke-linejoin="round"/>
<polygon points="232.49,252.18 226.76,252.98 236.98,260.80" fill="#4463fd" stroke="#000" stroke-width="0.35" stroke-linejoin="round"/>
<polygon points="196.10,238.46 190.37,252.44 200.59,247.86" fill="#187dfb" stroke="#000" stroke-width="0.35" stroke-linejoin="round"/>
<polygon points="210.81,249.45 216.54,242.87 206.32,236.10" fill="#1b7efa" stroke="#000" stroke-width="0.35" stroke-linejoin="round"/>
<polygon points="206.32,236.10 200.59,247.86 210.81,249.45" fill="#187dfb" stroke="#000" stroke-width="0.35" stroke-linejoin="round"/>
<polygon points="221.03,255.82 226.76,252.98 216.54,242.87" fill="#0097ea" stroke="#000" stroke-width="0.35" stroke-linejoin="round"/>
<polygon points="184.64,261.80 190.37,252.44 180.15,258.53" fill="#4741e5" stroke="#000" stroke-width="0.35" stroke-linejoin="round"/>
<polygon points="216.54,242.87 210.81,249.45 221.03,255.82" fill="#1b7efa" stroke="#000" stroke-width="0.35" stroke-linejoin="round"/>
<polygon points="231.25,262.36 236.98,260.80 226.76,252.98" fill="#4463fd" stroke="#000" stroke-width="0.35" stroke-linejoin="round"/>
<polygon points="194.86,258.55 200.59,247.86 190.37,252.44" fill="#4067fe" stroke="#000" stroke-width="0.35" stroke-linejoin="round"/>
<polygon points="226.76,252.98 221.03,255.82 231.25,262.36" fill="#4563fd" stroke="#000" stroke-width="0.35" stroke-linejoin="round"/>
<polygon points="190.37,252.44 184.64,261.80 194.86,258.55" fill="#4741e5" stroke="#000" stroke-width="0.35" stroke-linejoin="round"/>
<polygon points="205.08,257.60 210.81,249.45 200.59,247.86" fill="#187dfb" stroke="#000" stroke-width="0.35" stroke-linejoin="round"/>
<polygon points="200.59,247.86 194.86,258.55 205.08,257.60" fill="#4758f8" stroke="#000" stroke-width="0.35" stroke-linejoin="round"/>
<polygon points="215.30,260.42 221.03,255.82 210.81,249.45" fill="#1b7efa" stroke="#000" stroke-width="0.35" stroke-linejoin="round"/>
<polygon points="210.81,249.45 205.08,257.60 215.30,260.42" fill="#465efb" stroke="#000" stroke-width="0.35" stroke-linejoin="round"/>
<polygon points="225.52,264.79 231.25,262.36 221.03,255.82" fill="#4563fd" stroke="#000" stroke-width="0.35" stroke-linejoin="round"/>
<polygon points="189.13,265.74 194.86,258.55 184.64,261.80" fill="#4741e5" stroke="#000" stroke-width="0.35" stroke-linejoin="round"/>
<polygon points="221.03,255.82 215.30,260.42 225.52,264.79" fill="#4852f4" stroke="#000" stroke-width="0.35" stroke-linejoin="round"/>
<polygon points="199.35,264.81 205.08,257.60 194.86,258.55" fill="#4758f8" stroke="#000" stroke-width="0.35" stroke-linejoin="round"/>
<polygon points="194.86,258.55 189.13,265.74 199.35,264.81" fill="#4537d5" stroke="#000" stroke-width="0.35" stroke-linejoin="round"/>
<polygon points="209.57,265.57 215.30,260.42 205.08,257.60" fill="#465efb" stroke="#000" stroke-width="0.35" stroke-linejoin="round"/>
<polygon points="205.08,257.60 199.35,264.81 209.57,265.57" fill="#4741e5" stroke="#000" stroke-width="0.35" stroke-linejoin="round"/>
<polygon points="219.79,267.87 225.52,264.79 215.30,260.42" fill="#4852f4" stroke="#000" stroke-width="0.35" stroke-linejoin="round"/>
<polygon points="215.30,260.42 209.57,265.57 219.79,267.87" fill="#4741e5" stroke="#000" stroke-width="0.35" stroke-linejoin="round"/>
<polygon points="193.62,269.65 199.35,264.81 189.13,265.74" fill="#4537d5" stroke="#000" stroke-width="0.35" stroke-linejoin="round"/>
<polygon points="203.84,269.96 209.57,265.57 199.35,264.81" fill="#4741e5" stroke="#000" stroke-width="0.35" stroke-linejoin="round"/>
<polygon points="199.35,264.81 193.62,269.65 203.84,269.96" fill="#4332cb" stroke="#000" stroke-width="0.35" stroke-linejoin="round"/>
<polygon points="214.06,271.00 219.79,267.87 209.57,265.57" fill="#4741e5" stroke="#000" stroke-width="0.35" stroke-linejoin="round"/>
<polygon points="209.57,265.57 203.84,269.96 214.06,271.00" fill="#4332cb" stroke="#000" stroke-width="0.35" stroke-linejoin="round"/>
<polygon points="198.11,273.05 203.84,269.96 193.62,269.65" fill="#4332cb" stroke="#000" stroke-width="0.35" stroke-linejoin="round"/>
<polygon points="208.33,273.71 214.06,271.00 203.84,269.96" fill="#4332cb" stroke="#000" stroke-width="0.35" stroke-linejoin="round"/>
<polygon points="203.84,269.96 198.11,273.05 208.33,273.71" fill="#422ec0" stroke="#000" stroke-width="0.35" stroke-linejoin="round"/>
<polygon points="202.60,275.97 208.33,273.71 198.11,273.05" fill="#422ec0" stroke="#000" stroke-width="0.35" stroke-linejoin="round"/>
<line x1="157.70" y1="249.00" x2="157.70" y2="193.40" stroke="#5c5c5c" stroke-width="0.7"/>
<line x1="157.70" y1="249.00" x2="202.60" y2="276.00" stroke="#5c5c5c" stroke-width="0.6"/>
<line x1="202.60" y1="276.00" x2="259.90" y2="255.60" stroke="#5c5c5c" stroke-width="0.6"/>
<line x1="157.20" y1="249.00" x2="158.60" y2="249.00" stroke="#5c5c5c" stroke-width="0.5"/>
<text x="154.10" y="250.00" font-size="5.2" text-anchor="end" font-weight="normal" fill="#626262" font-family="Liberation Sans, sans-serif">0</text>
<line x1="157.20" y1="221.20" x2="158.60" y2="221.20" stroke="#5c5c5c" stroke-width="0.5"/>
<text x="154.10" y="222.20" font-size="5.2" text-anchor="end" font-weight="normal" fill="#626262" font-family="Liberation Sans, sans-serif">0.5</text>
<line x1="157.20" y1="193.40" x2="158.60" y2="193.40" stroke="#5c5c5c" stroke-width="0.5"/>
<text x="154.10" y="194.40" font-size="5.2" text-anchor="end" font-weight="normal" fill="#626262" font-family="Liberation Sans, sans-serif">1</text>
<line x1="202.60" y1="276.00" x2="201.57" y2="275.38" stroke="#5c5c5c" stroke-width="0.5"/>
<text x="207.00" y="283.70" font-size="5.2" text-anchor="middle" font-weight="normal" fill="#626262" font-family="Liberation Sans, sans-serif">-5</text>
<line x1="231.25" y1="265.80" x2="230.22" y2="265.18" stroke="#5c5c5c" stroke-width="0.5"/>
<text x="236.15" y="273.50" font-size="5.2" text-anchor="middle" font-weight="normal" fill="#626262" font-family="Liberation Sans, sans-serif">0</text>
<line x1="259.90" y1="255.60" x2="258.87" y2="254.98" stroke="#5c5c5c" stroke-width="0.5"/>
<text x="264.80" y="263.30" font-size="5.2" text-anchor="middle" font-weight="normal" fill="#626262" font-family="Liberation Sans, sans-serif">5</text>
<line x1="202.60" y1="276.00" x2="203.73" y2="275.60" stroke="#5c5c5c" stroke-width="0.5"/>
<text x="196.50" y="283.20" font-size="5.2" text-anchor="middle" font-weight="normal" fill="#626262" font-family="Liberation Sans, sans-serif">-5</text>
<line x1="180.15" y1="262.50" x2="181.28" y2="262.10" stroke="#5c5c5c" stroke-width="0.5"/>
<text x="174.55" y="269.70" font-size="5.2" text-anchor="middle" font-weight="normal" fill="#626262" font-family="Liberation Sans, sans-serif">0</text>
<line x1="157.70" y1="249.00" x2="158.83" y2="248.60" stroke="#5c5c5c" stroke-width="0.5"/>
<text x="152.10" y="256.20" font-size="5.2" text-anchor="middle" font-weight="normal" fill="#626262" font-family="Liberation Sans, sans-serif">5</text>
<text x="209.10" y="170.85" font-size="5.75" text-anchor="middle" font-weight="bold" fill="#000" font-family="Liberation Sans, sans-serif" stroke="#000" stroke-width="0.12">Gaussian Function</text>
<line x1="339.30" y1="276.00" x2="294.40" y2="249.00" stroke="#e2e2e2" stroke-width="0.5"/>
<line x1="367.95" y1="265.80" x2="323.05" y2="238.80" stroke="#e2e2e2" stroke-width="0.5"/>
<line x1="396.60" y1="255.60" x2="351.70" y2="228.60" stroke="#e2e2e2" stroke-width="0.5"/>
<line x1="339.30" y1="276.00" x2="396.60" y2="255.60" stroke="#e2e2e2" stroke-width="0.5"/>
<line x1="316.85" y1="262.50" x2="374.15" y2="242.10" stroke="#e2e2e2" stroke-width="0.5"/>
<line x1="294.40" y1="249.00" x2="351.70" y2="228.60" stroke="#e2e2e2" stroke-width="0.5"/>
<line x1="294.40" y1="249.00" x2="294.40" y2="193.40" stroke="#e2e2e2" stroke-width="0.5"/>
<line x1="323.05" y1="238.80" x2="323.05" y2="183.20" stroke="#e2e2e2" stroke-width="0.5"/>
<line x1="351.70" y1="228.60" x2="351.70" y2="173.00" stroke="#e2e2e2" stroke-width="0.5"/>
<line x1="396.60" y1="255.60" x2="396.60" y2="200.00" stroke="#e2e2e2" stroke-width="0.5"/>
<line x1="374.15" y1="242.10" x2="374.15" y2="186.50" stroke="#e2e2e2" stroke-width="0.5"/>
<line x1="351.70" y1="228.60" x2="351.70" y2="173.00" stroke="#e2e2e2" stroke-width="0.5"/>
<line x1="294.40" y1="249.00" x2="351.70" y2="228.60" stroke="#e2e2e2" stroke-width="0.5"/>
<line x1="351.70" y1="228.60" x2="396.60" y2="255.60" stroke="#e2e2e2" stroke-width="0.5"/>
<line x1="294.40" y1="221.20" x2="351.70" y2="200.80" stroke="#e2e2e2" stroke-width="0.5"/>
<line x1="351.70" y1="200.80" x2="396.60" y2="227.80" stroke="#e2e2e2" stroke-width="0.5"/>
<line x1="294.40" y1="193.40" x2="351.70" y2="173.00" stroke="#e2e2e2" stroke-width="0.5"/>
<line x1="351.70" y1="173.00" x2="396.60" y2="200.00" stroke="#e2e2e2" stroke-width="0.5"/>
<polygon points="351.70,228.57 345.97,230.39 356.19,231.05" fill="#422ec0" stroke="#000" stroke-width="0.35" stroke-linejoin="round"/>
<polygon points="350.46,232.04 356.19,231.05 345.97,230.39" fill="#422ec0" stroke="#000" stroke-width="0.35" stroke-linejoin="round"/>
<polygon points="345.97,230.39 340.24,231.74 350.46,232.04" fill="#4332cb" stroke="#000" stroke-width="0.35" stroke-linejoin="round"/>
<polygon points="356.19,231.05 350.46,232.04 360.68,233.09" fill="#4332cb" stroke="#000" stroke-width="0.35" stroke-linejoin="round"/>
<polygon points="344.73,231.64 350.46,232.04 340.24,231.74" fill="#4332cb" stroke="#000" stroke-width="0.35" stroke-linejoin="round"/>
<polygon points="340.24,231.74 334.51,232.57 344.73,231.64" fill="#4537d5" stroke="#000" stroke-width="0.35" stroke-linejoin="round"/>
<polygon points="354.95,232.41 360.68,233.09 350.46,232.04" fill="#4332cb" stroke="#000" stroke-width="0.35" stroke-linejoin="round"/>
<polygon points="350.46,232.04 344.73,231.64 354.95,232.41" fill="#4741e5" stroke="#000" stroke-width="0.35" stroke-linejoin="round"/>
<polygon points="360.68,233.09 354.95,232.41 365.17,234.69" fill="#4741e5" stroke="#000" stroke-width="0.35" stroke-linejoin="round"/>
<polygon points="339.00,230.15 344.73,231.64 334.51,232.57" fill="#4537d5" stroke="#000" stroke-width="0.35" stroke-linejoin="round"/>
<polygon points="334.51,232.57 328.78,233.37 339.00,230.15" fill="#4741e5" stroke="#000" stroke-width="0.35" stroke-linejoin="round"/>
<polygon points="349.22,229.22 354.95,232.41 344.73,231.64" fill="#4741e5" stroke="#000" stroke-width="0.35" stroke-linejoin="round"/>
<polygon points="344.73,231.64 339.00,230.15 349.22,229.22" fill="#4758f8" stroke="#000" stroke-width="0.35" stroke-linejoin="round"/>
<polygon points="359.44,232.01 365.17,234.69 354.95,232.41" fill="#4741e5" stroke="#000" stroke-width="0.35" stroke-linejoin="round"/>
<polygon points="354.95,232.41 349.22,229.22 359.44,232.01" fill="#465efb" stroke="#000" stroke-width="0.35" stroke-linejoin="round"/>
<polygon points="333.27,228.80 339.00,230.15 328.78,233.37" fill="#4741e5" stroke="#000" stroke-width="0.35" stroke-linejoin="round"/>
<polygon points="365.17,234.69 359.44,232.01 369.66,236.36" fill="#4852f4" stroke="#000" stroke-width="0.35" stroke-linejoin="round"/>
<polygon points="328.78,233.37 323.05,234.84 333.27,228.80" fill="#4741e5" stroke="#000" stroke-width="0.35" stroke-linejoin="round"/>
<polygon points="343.49,224.28 349.22,229.22 339.00,230.15" fill="#4758f8" stroke="#000" stroke-width="0.35" stroke-linejoin="round"/>
<polygon points="339.00,230.15 333.27,228.80 343.49,224.28" fill="#4067fe" stroke="#000" stroke-width="0.35" stroke-linejoin="round"/>
<polygon points="353.71,225.87 359.44,232.01 349.22,229.22" fill="#465efb" stroke="#000" stroke-width="0.35" stroke-linejoin="round"/>
<polygon points="349.22,229.22 343.49,224.28 353.71,225.87" fill="#187dfb" stroke="#000" stroke-width="0.35" stroke-linejoin="round"/>
<polygon points="363.93,232.18 369.66,236.36 359.44,232.01" fill="#4852f4" stroke="#000" stroke-width="0.35" stroke-linejoin="round"/>
<polygon points="327.54,229.22 333.27,228.80 323.05,234.84" fill="#4741e5" stroke="#000" stroke-width="0.35" stroke-linejoin="round"/>
<polygon points="359.44,232.01 353.71,225.87 363.93,232.18" fill="#1d78fd" stroke="#000" stroke-width="0.35" stroke-linejoin="round"/>
<polygon points="323.05,234.84 317.32,237.36 327.54,229.22" fill="#4741e5" stroke="#000" stroke-width="0.35" stroke-linejoin="round"/>
<polygon points="337.76,219.66 343.49,224.28 333.27,228.80" fill="#4067fe" stroke="#000" stroke-width="0.35" stroke-linejoin="round"/>
<polygon points="369.66,236.36 363.93,232.18 374.15,238.68" fill="#4563fd" stroke="#000" stroke-width="0.35" stroke-linejoin="round"/>
<polygon points="333.27,228.80 327.54,229.22 337.76,219.66" fill="#3070ff" stroke="#000" stroke-width="0.35" stroke-linejoin="round"/>
<polygon points="347.98,217.35 353.71,225.87 343.49,224.28" fill="#187dfb" stroke="#000" stroke-width="0.35" stroke-linejoin="round"/>
<polygon points="343.49,224.28 337.76,219.66 347.98,217.35" fill="#00aae1" stroke="#000" stroke-width="0.35" stroke-linejoin="round"/>
<polygon points="358.20,224.05 363.93,232.18 353.71,225.87" fill="#1d78fd" stroke="#000" stroke-width="0.35" stroke-linejoin="round"/>
<polygon points="321.81,232.37 327.54,229.22 317.32,237.36" fill="#4741e5" stroke="#000" stroke-width="0.35" stroke-linejoin="round"/>
<polygon points="353.71,225.87 347.98,217.35 358.20,224.05" fill="#00bec7" stroke="#000" stroke-width="0.35" stroke-linejoin="round"/>
<polygon points="368.42,234.07 374.15,238.68 363.93,232.18" fill="#4563fd" stroke="#000" stroke-width="0.35" stroke-linejoin="round"/>
<polygon points="317.32,237.36 311.59,240.63 321.81,232.37" fill="#4537d5" stroke="#000" stroke-width="0.35" stroke-linejoin="round"/>
<polygon points="332.03,218.21 337.76,219.66 327.54,229.22" fill="#3070ff" stroke="#000" stroke-width="0.35" stroke-linejoin="round"/>
<polygon points="363.93,232.18 358.20,224.05 368.42,234.07" fill="#0097ea" stroke="#000" stroke-width="0.35" stroke-linejoin="round"/>
<polygon points="327.54,229.22 321.81,232.37 332.03,218.21" fill="#3a6cff" stroke="#000" stroke-width="0.35" stroke-linejoin="round"/>
<polygon points="342.25,209.09 347.98,217.35 337.76,219.66" fill="#00aae1" stroke="#000" stroke-width="0.35" stroke-linejoin="round"/>
<polygon points="374.15,238.68 368.42,234.07 378.64,241.84" fill="#4563fd" stroke="#000" stroke-width="0.35" stroke-linejoin="round"/>
<polygon points="337.76,219.66 332.03,218.21 342.25,209.09" fill="#00bec7" stroke="#000" stroke-width="0.35" stroke-linejoin="round"/>
<polygon points="352.47,213.32 358.20,224.05 347.98,217.35" fill="#00bec7" stroke="#000" stroke-width="0.35" stroke-linejoin="round"/>
<polygon points="316.08,237.72 321.81,232.37 311.59,240.63" fill="#4537d5" stroke="#000" stroke-width="0.35" stroke-linejoin="round"/>
<polygon points="347.98,217.35 342.25,209.09 352.47,213.32" fill="#6fce3c" stroke="#000" stroke-width="0.35" stroke-linejoin="round"/>
<polygon points="362.69,225.65 368.42,234.07 358.20,224.05" fill="#0097ea" stroke="#000" stroke-width="0.35" stroke-linejoin="round"/>
<polygon points="311.59,240.63 305.86,243.92 316.08,237.72" fill="#4332cb" stroke="#000" stroke-width="0.35" stroke-linejoin="round"/>
<polygon points="326.30,222.00 332.03,218.21 321.81,232.37" fill="#3a6cff" stroke="#000" stroke-width="0.35" stroke-linejoin="round"/>
<polygon points="358.20,224.05 352.47,213.32 362.69,225.65" fill="#2acf74" stroke="#000" stroke-width="0.35" stroke-linejoin="round"/>
<polygon points="372.91,238.00 378.64,241.84 368.42,234.07" fill="#4563fd" stroke="#000" stroke-width="0.35" stroke-linejoin="round"/>
<polygon points="321.81,232.37 316.08,237.72 326.30,222.00" fill="#4758f8" stroke="#000" stroke-width="0.35" stroke-linejoin="round"/>
<polygon points="336.52,205.14 342.25,209.09 332.03,218.21" fill="#00bec7" stroke="#000" stroke-width="0.35" stroke-linejoin="round"/>
<polygon points="368.42,234.07 362.69,225.65 372.91,238.00" fill="#009de8" stroke="#000" stroke-width="0.35" stroke-linejoin="round"/>
<polygon points="332.03,218.21 326.30,222.00 336.52,205.14" fill="#00b7d5" stroke="#000" stroke-width="0.35" stroke-linejoin="round"/>
<polygon points="346.74,202.74 352.47,213.32 342.25,209.09" fill="#6fce3c" stroke="#000" stroke-width="0.35" stroke-linejoin="round"/>
<polygon points="310.35,243.54 316.08,237.72 305.86,243.92" fill="#4332cb" stroke="#000" stroke-width="0.35" stroke-linejoin="round"/>
<polygon points="378.64,241.84 372.91,238.00 383.13,245.58" fill="#465efb" stroke="#000" stroke-width="0.35" stroke-linejoin="round"/>
<polygon points="342.25,209.09 336.52,205.14 346.74,202.74" fill="#dfc200" stroke="#000" stroke-width="0.35" stroke-linejoin="round"/>
<polygon points="356.96,214.92 362.69,225.65 352.47,213.32" fill="#2acf74" stroke="#000" stroke-width="0.35" stroke-linejoin="round"/>
<polygon points="305.86,243.92 300.13,246.70 310.35,243.54" fill="#422ec0" stroke="#000" stroke-width="0.35" stroke-linejoin="round"/>
<polygon points="320.57,230.39 326.30,222.00 316.08,237.72" fill="#4758f8" stroke="#000" stroke-width="0.35" stroke-linejoin="round"/>
<polygon points="352.47,213.32 346.74,202.74 356.96,214.92" fill="#ffbd0c" stroke="#000" stroke-width="0.35" stroke-linejoin="round"/>
<polygon points="367.18,230.82 372.91,238.00 362.69,225.65" fill="#009de8" stroke="#000" stroke-width="0.35" stroke-linejoin="round"/>
<polygon points="316.08,237.72 310.35,243.54 320.57,230.39" fill="#4741e5" stroke="#000" stroke-width="0.35" stroke-linejoin="round"/>
<polygon points="330.79,209.14 336.52,205.14 326.30,222.00" fill="#00b7d5" stroke="#000" stroke-width="0.35" stroke-linejoin="round"/>
<polygon points="362.69,225.65 356.96,214.92 367.18,230.82" fill="#3acf67" stroke="#000" stroke-width="0.35" stroke-linejoin="round"/>
<polygon points="377.40,243.31 383.13,245.58 372.91,238.00" fill="#465efb" stroke="#000" stroke-width="0.35" stroke-linejoin="round"/>
<polygon points="326.30,222.00 320.57,230.39 330.79,209.14" fill="#0a8cf0" stroke="#000" stroke-width="0.35" stroke-linejoin="round"/>
<polygon points="341.01,196.81 346.74,202.74 336.52,205.14" fill="#dfc200" stroke="#000" stroke-width="0.35" stroke-linejoin="round"/>
<polygon points="304.62,248.25 310.35,243.54 300.13,246.70" fill="#422ec0" stroke="#000" stroke-width="0.35" stroke-linejoin="round"/>
<polygon points="372.91,238.00 367.18,230.82 377.40,243.31" fill="#098cf0" stroke="#000" stroke-width="0.35" stroke-linejoin="round"/>
<polygon points="336.52,205.14 330.79,209.14 341.01,196.81" fill="#c7c501" stroke="#000" stroke-width="0.35" stroke-linejoin="round"/>
<polygon points="351.23,204.51 356.96,214.92 346.74,202.74" fill="#ffbd0c" stroke="#000" stroke-width="0.35" stroke-linejoin="round"/>
<polygon points="300.13,246.70 294.40,248.97 304.62,248.25" fill="#422ec0" stroke="#000" stroke-width="0.35" stroke-linejoin="round"/>
<polygon points="314.84,240.20 320.57,230.39 310.35,243.54" fill="#4741e5" stroke="#000" stroke-width="0.35" stroke-linejoin="round"/>
<polygon points="383.13,245.58 377.40,243.31 387.62,249.33" fill="#484df0" stroke="#000" stroke-width="0.35" stroke-linejoin="round"/>
<polygon points="346.74,202.74 341.01,196.81 351.23,204.51" fill="#f9ff00" stroke="#000" stroke-width="0.35" stroke-linejoin="round"/>
<polygon points="361.45,221.88 367.18,230.82 356.96,214.92" fill="#3acf67" stroke="#000" stroke-width="0.35" stroke-linejoin="round"/>
<polygon points="310.35,243.54 304.62,248.25 314.84,240.20" fill="#4332cb" stroke="#000" stroke-width="0.35" stroke-linejoin="round"/>
<polygon points="325.06,220.75 330.79,209.14 320.57,230.39" fill="#0a8cf0" stroke="#000" stroke-width="0.35" stroke-linejoin="round"/>
<polygon points="356.96,214.92 351.23,204.51 361.45,221.88" fill="#ffc406" stroke="#000" stroke-width="0.35" stroke-linejoin="round"/>
<polygon points="371.67,238.34 377.40,243.31 367.18,230.82" fill="#098cf0" stroke="#000" stroke-width="0.35" stroke-linejoin="round"/>
<polygon points="320.57,230.39 314.84,240.20 325.06,220.75" fill="#4463fd" stroke="#000" stroke-width="0.35" stroke-linejoin="round"/>
<polygon points="335.28,200.33 341.01,196.81 330.79,209.14" fill="#c7c501" stroke="#000" stroke-width="0.35" stroke-linejoin="round"/>
<polygon points="298.89,251.44 304.62,248.25 294.40,248.97" fill="#422ec0" stroke="#000" stroke-width="0.35" stroke-linejoin="round"/>
<polygon points="367.18,230.82 361.45,221.88 371.67,238.34" fill="#06c7a3" stroke="#000" stroke-width="0.35" stroke-linejoin="round"/>
<polygon points="381.89,248.91 387.62,249.33 377.40,243.31" fill="#484df0" stroke="#000" stroke-width="0.35" stroke-linejoin="round"/>
<polygon points="330.79,209.14 325.06,220.75 335.28,200.33" fill="#0dc998" stroke="#000" stroke-width="0.35" stroke-linejoin="round"/>
<polygon points="345.50,198.44 351.23,204.51 341.01,196.81" fill="#f9ff00" stroke="#000" stroke-width="0.35" stroke-linejoin="round"/>
<polygon points="309.11,248.28 314.84,240.20 304.62,248.25" fill="#4332cb" stroke="#000" stroke-width="0.35" stroke-linejoin="round"/>
<polygon points="377.40,243.31 371.67,238.34 381.89,248.91" fill="#2675ff" stroke="#000" stroke-width="0.35" stroke-linejoin="round"/>
<polygon points="341.01,196.81 335.28,200.33 345.50,198.44" fill="#f9ff00" stroke="#000" stroke-width="0.35" stroke-linejoin="round"/>
<polygon points="355.72,213.57 361.45,221.88 351.23,204.51" fill="#ffc406" stroke="#000" stroke-width="0.35" stroke-linejoin="round"/>
<polygon points="304.62,248.25 298.89,251.44 309.11,248.28" fill="#422ec0" stroke="#000" stroke-width="0.35" stroke-linejoin="round"/>
<polygon points="319.33,235.11 325.06,220.75 314.84,240.20" fill="#4463fd" stroke="#000" stroke-width="0.35" stroke-linejoin="round"/>
<polygon points="387.62,249.33 381.89,248.91 392.11,252.67" fill="#463cde" stroke="#000" stroke-width="0.35" stroke-linejoin="round"/>
<polygon points="351.23,204.51 345.50,198.44 355.72,213.57" fill="#d3c300" stroke="#000" stroke-width="0.35" stroke-linejoin="round"/>
<polygon points="365.94,232.05 371.67,238.34 361.45,221.88" fill="#06c7a3" stroke="#000" stroke-width="0.35" stroke-linejoin="round"/>
<polygon points="314.84,240.20 309.11,248.28 319.33,235.11" fill="#4741e5" stroke="#000" stroke-width="0.35" stroke-linejoin="round"/>
<polygon points="329.55,213.78 335.28,200.33 325.06,220.75" fill="#0dc998" stroke="#000" stroke-width="0.35" stroke-linejoin="round"/>
<polygon points="361.45,221.88 355.72,213.57 365.94,232.05" fill="#b7c60a" stroke="#000" stroke-width="0.35" stroke-linejoin="round"/>
<polygon points="376.16,246.50 381.89,248.91 371.67,238.34" fill="#2675ff" stroke="#000" stroke-width="0.35" stroke-linejoin="round"/>
<polygon points="325.06,220.75 319.33,235.11 329.55,213.78" fill="#098cf0" stroke="#000" stroke-width="0.35" stroke-linejoin="round"/>
<polygon points="339.77,201.36 345.50,198.44 335.28,200.33" fill="#f9ff00" stroke="#000" stroke-width="0.35" stroke-linejoin="round"/>
<polygon points="303.38,253.40 309.11,248.28 298.89,251.44" fill="#422ec0" stroke="#000" stroke-width="0.35" stroke-linejoin="round"/>
<polygon points="371.67,238.34 365.94,232.05 376.16,246.50" fill="#00a4e6" stroke="#000" stroke-width="0.35" stroke-linejoin="round"/>
<polygon points="386.38,253.74 392.11,252.67 381.89,248.91" fill="#463cde" stroke="#000" stroke-width="0.35" stroke-linejoin="round"/>
<polygon points="335.28,200.33 329.55,213.78 339.77,201.36" fill="#ffc406" stroke="#000" stroke-width="0.35" stroke-linejoin="round"/>
<polygon points="349.99,209.09 355.72,213.57 345.50,198.44" fill="#d3c300" stroke="#000" stroke-width="0.35" stroke-linejoin="round"/>
<polygon points="313.60,247.18 319.33,235.11 309.11,248.28" fill="#4741e5" stroke="#000" stroke-width="0.35" stroke-linejoin="round"/>
<polygon points="381.89,248.91 376.16,246.50 386.38,253.74" fill="#4758f8" stroke="#000" stroke-width="0.35" stroke-linejoin="round"/>
<polygon points="345.50,198.44 339.77,201.36 349.99,209.09" fill="#f7fc00" stroke="#000" stroke-width="0.35" stroke-linejoin="round"/>
<polygon points="360.21,226.54 365.94,232.05 355.72,213.57" fill="#b7c60a" stroke="#000" stroke-width="0.35" stroke-linejoin="round"/>
<polygon points="309.11,248.28 303.38,253.40 313.60,247.18" fill="#4332cb" stroke="#000" stroke-width="0.35" stroke-linejoin="round"/>
<polygon points="323.82,231.40 329.55,213.78 319.33,235.11" fill="#098cf0" stroke="#000" stroke-width="0.35" stroke-linejoin="round"/>
<polygon points="392.11,252.67 386.38,253.74 396.60,255.57" fill="#4332cb" stroke="#000" stroke-width="0.35" stroke-linejoin="round"/>
<polygon points="355.72,213.57 349.99,209.09 360.21,226.54" fill="#c7c501" stroke="#000" stroke-width="0.35" stroke-linejoin="round"/>
<polygon points="370.43,243.06 376.16,246.50 365.94,232.05" fill="#00a4e6" stroke="#000" stroke-width="0.35" stroke-linejoin="round"/>
<polygon points="319.33,235.11 313.60,247.18 323.82,231.40" fill="#4758f8" stroke="#000" stroke-width="0.35" stroke-linejoin="round"/>
<polygon points="334.04,214.39 339.77,201.36 329.55,213.78" fill="#ffc406" stroke="#000" stroke-width="0.35" stroke-linejoin="round"/>
<polygon points="365.94,232.05 360.21,226.54 370.43,243.06" fill="#06c7a3" stroke="#000" stroke-width="0.35" stroke-linejoin="round"/>
<polygon points="380.65,253.65 386.38,253.74 376.16,246.50" fill="#4758f8" stroke="#000" stroke-width="0.35" stroke-linejoin="round"/>
<polygon points="329.55,213.78 323.82,231.40 334.04,214.39" fill="#00c3b7" stroke="#000" stroke-width="0.35" stroke-linejoin="round"/>
<polygon points="344.26,211.93 349.99,209.09 339.77,201.36" fill="#f7fc00" stroke="#000" stroke-width="0.35" stroke-linejoin="round"/>
<polygon points="307.87,254.84 313.60,247.18 303.38,253.40" fill="#4332cb" stroke="#000" stroke-width="0.35" stroke-linejoin="round"/>
<polygon points="376.16,246.50 370.43,243.06 380.65,253.65" fill="#2675ff" stroke="#000" stroke-width="0.35" stroke-linejoin="round"/>
<polygon points="390.87,257.41 396.60,255.57 386.38,253.74" fill="#4332cb" stroke="#000" stroke-width="0.35" stroke-linejoin="round"/>
<polygon points="339.77,201.36 334.04,214.39 344.26,211.93" fill="#ffc406" stroke="#000" stroke-width="0.35" stroke-linejoin="round"/>
<polygon points="354.48,224.22 360.21,226.54 349.99,209.09" fill="#c7c501" stroke="#000" stroke-width="0.35" stroke-linejoin="round"/>
<polygon points="318.09,246.55 323.82,231.40 313.60,247.18" fill="#4758f8" stroke="#000" stroke-width="0.35" stroke-linejoin="round"/>
<polygon points="386.38,253.74 380.65,253.65 390.87,257.41" fill="#463cde" stroke="#000" stroke-width="0.35" stroke-linejoin="round"/>
<polygon points="349.99,209.09 344.26,211.93 354.48,224.22" fill="#ffbd0c" stroke="#000" stroke-width="0.35" stroke-linejoin="round"/>
<polygon points="364.70,240.23 370.43,243.06 360.21,226.54" fill="#06c7a3" stroke="#000" stroke-width="0.35" stroke-linejoin="round"/>
<polygon points="313.60,247.18 307.87,254.84 318.09,246.55" fill="#4537d5" stroke="#000" stroke-width="0.35" stroke-linejoin="round"/>
<polygon points="328.31,232.28 334.04,214.39 323.82,231.40" fill="#00c3b7" stroke="#000" stroke-width="0.35" stroke-linejoin="round"/>
<polygon points="360.21,226.54 354.48,224.22 364.70,240.23" fill="#3acf67" stroke="#000" stroke-width="0.35" stroke-linejoin="round"/>
<polygon points="374.92,252.78 380.65,253.65 370.43,243.06" fill="#2675ff" stroke="#000" stroke-width="0.35" stroke-linejoin="round"/>
<polygon points="323.82,231.40 318.09,246.55 328.31,232.28" fill="#00c0c0" stroke="#000" stroke-width="0.35" stroke-linejoin="round"/>
<polygon points="338.53,223.04 344.26,211.93 334.04,214.39" fill="#ffc406" stroke="#000" stroke-width="0.35" stroke-linejoin="round"/>
<polygon points="370.43,243.06 364.70,240.23 374.92,252.78" fill="#098cf0" stroke="#000" stroke-width="0.35" stroke-linejoin="round"/>
<polygon points="385.14,258.81 390.87,257.41 380.65,253.65" fill="#463cde" stroke="#000" stroke-width="0.35" stroke-linejoin="round"/>
<polygon points="334.04,214.39 328.31,232.28 338.53,223.04" fill="#00c3b7" stroke="#000" stroke-width="0.35" stroke-linejoin="round"/>
<polygon points="348.75,227.29 354.48,224.22 344.26,211.93" fill="#00c5ad" stroke="#000" stroke-width="0.35" stroke-linejoin="round"/>
<polygon points="312.36,256.31 318.09,246.55 307.87,254.84" fill="#4537d5" stroke="#000" stroke-width="0.35" stroke-linejoin="round"/>
<polygon points="380.65,253.65 374.92,252.78 385.14,258.81" fill="#484df0" stroke="#000" stroke-width="0.35" stroke-linejoin="round"/>
<polygon points="344.26,211.93 338.53,223.04 348.75,227.29" fill="#00c5ad" stroke="#000" stroke-width="0.35" stroke-linejoin="round"/>
<polygon points="358.97,239.75 364.70,240.23 354.48,224.22" fill="#3acf67" stroke="#000" stroke-width="0.35" stroke-linejoin="round"/>
<polygon points="322.58,248.12 328.31,232.28 318.09,246.55" fill="#3a6cff" stroke="#000" stroke-width="0.35" stroke-linejoin="round"/>
<polygon points="354.48,224.22 348.75,227.29 358.97,239.75" fill="#00c5ad" stroke="#000" stroke-width="0.35" stroke-linejoin="round"/>
<polygon points="369.19,252.18 374.92,252.78 364.70,240.23" fill="#098cf0" stroke="#000" stroke-width="0.35" stroke-linejoin="round"/>
<polygon points="318.09,246.55 312.36,256.31 322.58,248.12" fill="#4741e5" stroke="#000" stroke-width="0.35" stroke-linejoin="round"/>
<polygon points="332.80,238.46 338.53,223.04 328.31,232.28" fill="#00a4e6" stroke="#000" stroke-width="0.35" stroke-linejoin="round"/>
<polygon points="364.70,240.23 358.97,239.75 369.19,252.18" fill="#009de9" stroke="#000" stroke-width="0.35" stroke-linejoin="round"/>
<polygon points="379.41,259.80 385.14,258.81 374.92,252.78" fill="#484df0" stroke="#000" stroke-width="0.35" stroke-linejoin="round"/>
<polygon points="328.31,232.28 322.58,248.12 332.80,238.46" fill="#3070ff" stroke="#000" stroke-width="0.35" stroke-linejoin="round"/>
<polygon points="343.02,236.10 348.75,227.29 338.53,223.04" fill="#3acf67" stroke="#000" stroke-width="0.35" stroke-linejoin="round"/>
<polygon points="374.92,252.78 369.19,252.18 379.41,259.80" fill="#465efb" stroke="#000" stroke-width="0.35" stroke-linejoin="round"/>
<polygon points="338.53,223.04 332.80,238.46 343.02,236.10" fill="#3acf67" stroke="#000" stroke-width="0.35" stroke-linejoin="round"/>
<polygon points="353.24,242.87 358.97,239.75 348.75,227.29" fill="#1e79fd" stroke="#000" stroke-width="0.35" stroke-linejoin="round"/>
<polygon points="316.85,258.53 322.58,248.12 312.36,256.31" fill="#4741e5" stroke="#000" stroke-width="0.35" stroke-linejoin="round"/>
<polygon points="348.75,227.29 343.02,236.10 353.24,242.87" fill="#1e79fd" stroke="#000" stroke-width="0.35" stroke-linejoin="round"/>
<polygon points="363.46,252.98 369.19,252.18 358.97,239.75" fill="#009de9" stroke="#000" stroke-width="0.35" stroke-linejoin="round"/>
<polygon points="327.07,252.44 332.80,238.46 322.58,248.12" fill="#3070ff" stroke="#000" stroke-width="0.35" stroke-linejoin="round"/>
<polygon points="358.97,239.75 353.24,242.87 363.46,252.98" fill="#0097ea" stroke="#000" stroke-width="0.35" stroke-linejoin="round"/>
<polygon points="373.68,260.80 379.41,259.80 369.19,252.18" fill="#465efb" stroke="#000" stroke-width="0.35" stroke-linejoin="round"/>
<polygon points="322.58,248.12 316.85,258.53 327.07,252.44" fill="#4741e5" stroke="#000" stroke-width="0.35" stroke-linejoin="round"/>
<polygon points="337.29,247.86 343.02,236.10 332.80,238.46" fill="#00b7d5" stroke="#000" stroke-width="0.35" stroke-linejoin="round"/>
<polygon points="369.19,252.18 363.46,252.98 373.68,260.80" fill="#4463fd" stroke="#000" stroke-width="0.35" stroke-linejoin="round"/>
<polygon points="332.80,238.46 327.07,252.44 337.29,247.86" fill="#187dfb" stroke="#000" stroke-width="0.35" stroke-linejoin="round"/>
<polygon points="347.51,249.45 353.24,242.87 343.02,236.10" fill="#1b7efa" stroke="#000" stroke-width="0.35" stroke-linejoin="round"/>
<polygon points="343.02,236.10 337.29,247.86 347.51,249.45" fill="#187dfb" stroke="#000" stroke-width="0.35" stroke-linejoin="round"/>
<polygon points="357.73,255.82 363.46,252.98 353.24,242.87" fill="#0097ea" stroke="#000" stroke-width="0.35" stroke-linejoin="round"/>
<polygon points="321.34,261.80 327.07,252.44 316.85,258.53" fill="#4741e5" stroke="#000" stroke-width="0.35" stroke-linejoin="round"/>
<polygon points="353.24,242.87 347.51,249.45 357.73,255.82" fill="#1b7efa" stroke="#000" stroke-width="0.35" stroke-linejoin="round"/>
<polygon points="367.95,262.36 373.68,260.80 363.46,252.98" fill="#4463fd" stroke="#000" stroke-width="0.35" stroke-linejoin="round"/>
<polygon points="331.56,258.55 337.29,247.86 327.07,252.44" fill="#4067fe" stroke="#000" stroke-width="0.35" stroke-linejoin="round"/>
<polygon points="363.46,252.98 357.73,255.82 367.95,262.36" fill="#4563fd" stroke="#000" stroke-width="0.35" stroke-linejoin="round"/>
<polygon points="327.07,252.44 321.34,261.80 331.56,258.55" fill="#4741e5" stroke="#000" stroke-width="0.35" stroke-linejoin="round"/>
<polygon points="341.78,257.60 347.51,249.45 337.29,247.86" fill="#187dfb" stroke="#000" stroke-width="0.35" stroke-linejoin="round"/>
<polygon points="337.29,247.86 331.56,258.55 341.78,257.60" fill="#4758f8" stroke="#000" stroke-width="0.35" stroke-linejoin="round"/>
<polygon points="352.00,260.42 357.73,255.82 347.51,249.45" fill="#1b7efa" stroke="#000" stroke-width="0.35" stroke-linejoin="round"/>
<polygon points="347.51,249.45 341.78,257.60 352.00,260.42" fill="#465efb" stroke="#000" stroke-width="0.35" stroke-linejoin="round"/>
<polygon points="362.22,264.79 367.95,262.36 357.73,255.82" fill="#4563fd" stroke="#000" stroke-width="0.35" stroke-linejoin="round"/>
<polygon points="325.83,265.74 331.56,258.55 321.34,261.80" fill="#4741e5" stroke="#000" stroke-width="0.35" stroke-linejoin="round"/>
<polygon points="357.73,255.82 352.00,260.42 362.22,264.79" fill="#4852f4" stroke="#000" stroke-width="0.35" stroke-linejoin="round"/>
<polygon points="336.05,264.81 341.78,257.60 331.56,258.55" fill="#4758f8" stroke="#000" stroke-width="0.35" stroke-linejoin="round"/>
<polygon points="331.56,258.55 325.83,265.74 336.05,264.81" fill="#4537d5" stroke="#000" stroke-width="0.35" stroke-linejoin="round"/>
<polygon points="346.27,265.57 352.00,260.42 341.78,257.60" fill="#465efb" stroke="#000" stroke-width="0.35" stroke-linejoin="round"/>
<polygon points="341.78,257.60 336.05,264.81 346.27,265.57" fill="#4741e5" stroke="#000" stroke-width="0.35" stroke-linejoin="round"/>
<polygon points="356.49,267.87 362.22,264.79 352.00,260.42" fill="#4852f4" stroke="#000" stroke-width="0.35" stroke-linejoin="round"/>
<polygon points="352.00,260.42 346.27,265.57 356.49,267.87" fill="#4741e5" stroke="#000" stroke-width="0.35" stroke-linejoin="round"/>
<polygon points="330.32,269.65 336.05,264.81 325.83,265.74" fill="#4537d5" stroke="#000" stroke-width="0.35" stroke-linejoin="round"/>
<polygon points="340.54,269.96 346.27,265.57 336.05,264.81" fill="#4741e5" stroke="#000" stroke-width="0.35" stroke-linejoin="round"/>
<polygon points="336.05,264.81 330.32,269.65 340.54,269.96" fill="#4332cb" stroke="#000" stroke-width="0.35" stroke-linejoin="round"/>
<polygon points="350.76,271.00 356.49,267.87 346.27,265.57" fill="#4741e5" stroke="#000" stroke-width="0.35" stroke-linejoin="round"/>
<polygon points="346.27,265.57 340.54,269.96 350.76,271.00" fill="#4332cb" stroke="#000" stroke-width="0.35" stroke-linejoin="round"/>
<polygon points="334.81,273.05 340.54,269.96 330.32,269.65" fill="#4332cb" stroke="#000" stroke-width="0.35" stroke-linejoin="round"/>
<polygon points="345.03,273.71 350.76,271.00 340.54,269.96" fill="#4332cb" stroke="#000" stroke-width="0.35" stroke-linejoin="round"/>
<polygon points="340.54,269.96 334.81,273.05 345.03,273.71" fill="#422ec0" stroke="#000" stroke-width="0.35" stroke-linejoin="round"/>
<polygon points="339.30,275.97 345.03,273.71 334.81,273.05" fill="#422ec0" stroke="#000" stroke-width="0.35" stroke-linejoin="round"/>
<line x1="294.40" y1="249.00" x2="294.40" y2="193.40" stroke="#5c5c5c" stroke-width="0.7"/>
<line x1="294.40" y1="249.00" x2="339.30" y2="276.00" stroke="#5c5c5c" stroke-width="0.6"/>
<line x1="339.30" y1="276.00" x2="396.60" y2="255.60" stroke="#5c5c5c" stroke-width="0.6"/>
<line x1="293.90" y1="249.00" x2="295.30" y2="249.00" stroke="#5c5c5c" stroke-width="0.5"/>
<text x="290.80" y="250.00" font-size="5.2" text-anchor="end" font-weight="normal" fill="#626262" font-family="Liberation Sans, sans-serif">0</text>
<line x1="293.90" y1="221.20" x2="295.30" y2="221.20" stroke="#5c5c5c" stroke-width="0.5"/>
<text x="290.80" y="222.20" font-size="5.2" text-anchor="end" font-weight="normal" fill="#626262" font-family="Liberation Sans, sans-serif">0.5</text>
<line x1="293.90" y1="193.40" x2="295.30" y2="193.40" stroke="#5c5c5c" stroke-width="0.5"/>
<text x="290.80" y="194.40" font-size="5.2" text-anchor="end" font-weight="normal" fill="#626262" font-family="Liberation Sans, sans-serif">1</text>
<line x1="339.30" y1="276.00" x2="338.27" y2="275.38" stroke="#5c5c5c" stroke-width="0.5"/>
<text x="343.70" y="283.70" font-size="5.2" text-anchor="middle" font-weight="normal" fill="#626262" font-family="Liberation Sans, sans-serif">-5</text>
<line x1="367.95" y1="265.80" x2="366.92" y2="265.18" stroke="#5c5c5c" stroke-width="0.5"/>
<text x="372.85" y="273.50" font-size="5.2" text-anchor="middle" font-weight="normal" fill="#626262" font-family="Liberation Sans, sans-serif">0</text>
<line x1="396.60" y1="255.60" x2="395.57" y2="254.98" stroke="#5c5c5c" stroke-width="0.5"/>
<text x="401.50" y="263.30" font-size="5.2" text-anchor="middle" font-weight="normal" fill="#626262" font-family="Liberation Sans, sans-serif">5</text>
<line x1="339.30" y1="276.00" x2="340.43" y2="275.60" stroke="#5c5c5c" stroke-width="0.5"/>
<text x="333.20" y="283.20" font-size="5.2" text-anchor="middle" font-weight="normal" fill="#626262" font-family="Liberation Sans, sans-serif">-5</text>
<line x1="316.85" y1="262.50" x2="317.98" y2="262.10" stroke="#5c5c5c" stroke-width="0.5"/>
<text x="311.25" y="269.70" font-size="5.2" text-anchor="middle" font-weight="normal" fill="#626262" font-family="Liberation Sans, sans-serif">0</text>
<line x1="294.40" y1="249.00" x2="295.53" y2="248.60" stroke="#5c5c5c" stroke-width="0.5"/>
<text x="288.80" y="256.20" font-size="5.2" text-anchor="middle" font-weight="normal" fill="#626262" font-family="Liberation Sans, sans-serif">5</text>
<text x="345.80" y="170.85" font-size="5.75" text-anchor="middle" font-weight="bold" fill="#000" font-family="Liberation Sans, sans-serif" stroke="#000" stroke-width="0.12">Thin-Plate Splines Function</text>
<line x1="476.30" y1="276.00" x2="431.40" y2="249.00" stroke="#e2e2e2" stroke-width="0.5"/>
<line x1="504.95" y1="265.80" x2="460.05" y2="238.80" stroke="#e2e2e2" stroke-width="0.5"/>
<line x1="533.60" y1="255.60" x2="488.70" y2="228.60" stroke="#e2e2e2" stroke-width="0.5"/>
<line x1="476.30" y1="276.00" x2="533.60" y2="255.60" stroke="#e2e2e2" stroke-width="0.5"/>
<line x1="453.85" y1="262.50" x2="511.15" y2="242.10" stroke="#e2e2e2" stroke-width="0.5"/>
<line x1="431.40" y1="249.00" x2="488.70" y2="228.60" stroke="#e2e2e2" stroke-width="0.5"/>
<line x1="431.40" y1="249.00" x2="431.40" y2="193.40" stroke="#e2e2e2" stroke-width="0.5"/>
<line x1="460.05" y1="238.80" x2="460.05" y2="183.20" stroke="#e2e2e2" stroke-width="0.5"/>
<line x1="488.70" y1="228.60" x2="488.70" y2="173.00" stroke="#e2e2e2" stroke-width="0.5"/>
<line x1="533.60" y1="255.60" x2="533.60" y2="200.00" stroke="#e2e2e2" stroke-width="0.5"/>
<line x1="511.15" y1="242.10" x2="511.15" y2="186.50" stroke="#e2e2e2" stroke-width="0.5"/>
<line x1="488.70" y1="228.60" x2="488.70" y2="173.00" stroke="#e2e2e2" stroke-width="0.5"/>
<line x1="431.40" y1="249.00" x2="488.70" y2="228.60" stroke="#e2e2e2" stroke-width="0.5"/>
<line x1="488.70" y1="228.60" x2="533.60" y2="255.60" stroke="#e2e2e2" stroke-width="0.5"/>
<line x1="431.40" y1="223.73" x2="488.70" y2="203.33" stroke="#e2e2e2" stroke-width="0.5"/>
<line x1="488.70" y1="203.33" x2="533.60" y2="230.33" stroke="#e2e2e2" stroke-width="0.5"/>
<line x1="431.40" y1="198.45" x2="488.70" y2="178.05" stroke="#e2e2e2" stroke-width="0.5"/>
<line x1="488.70" y1="178.05" x2="533.60" y2="205.05" stroke="#e2e2e2" stroke-width="0.5"/>
<polygon points="488.70,214.92 482.97,209.11 493.19,210.03" fill="#1682f7" stroke="#000" stroke-width="0.35" stroke-linejoin="round"/>
<polygon points="487.46,204.22 493.19,210.03 482.97,209.11" fill="#1682f7" stroke="#000" stroke-width="0.35" stroke-linejoin="round"/>
<polygon points="482.97,209.11 477.24,204.99 487.46,204.22" fill="#00bbce" stroke="#000" stroke-width="0.35" stroke-linejoin="round"/>
<polygon points="493.19,210.03 487.46,204.22 497.68,206.98" fill="#00aae1" stroke="#000" stroke-width="0.35" stroke-linejoin="round"/>
<polygon points="481.73,200.10 487.46,204.22 477.24,204.99" fill="#00bbce" stroke="#000" stroke-width="0.35" stroke-linejoin="round"/>
<polygon points="477.24,204.99 471.51,202.58 481.73,200.10" fill="#00c5ad" stroke="#000" stroke-width="0.35" stroke-linejoin="round"/>
<polygon points="491.95,201.17 497.68,206.98 487.46,204.22" fill="#00aae1" stroke="#000" stroke-width="0.35" stroke-linejoin="round"/>
<polygon points="487.46,204.22 481.73,200.10 491.95,201.17" fill="#1dcd81" stroke="#000" stroke-width="0.35" stroke-linejoin="round"/>
<polygon points="497.68,206.98 491.95,201.17 502.17,205.78" fill="#00c0c0" stroke="#000" stroke-width="0.35" stroke-linejoin="round"/>
<polygon points="476.00,197.69 481.73,200.10 471.51,202.58" fill="#00c5ad" stroke="#000" stroke-width="0.35" stroke-linejoin="round"/>
<polygon points="471.51,202.58 465.78,201.86 476.00,197.69" fill="#1dcd81" stroke="#000" stroke-width="0.35" stroke-linejoin="round"/>
<polygon points="486.22,197.06 491.95,201.17 481.73,200.10" fill="#1dcd81" stroke="#000" stroke-width="0.35" stroke-linejoin="round"/>
<polygon points="481.73,200.10 476.00,197.69 486.22,197.06" fill="#81cd2e" stroke="#000" stroke-width="0.35" stroke-linejoin="round"/>
<polygon points="496.44,199.97 502.17,205.78 491.95,201.17" fill="#00c0c0" stroke="#000" stroke-width="0.35" stroke-linejoin="round"/>
<polygon points="491.95,201.17 486.22,197.06 496.44,199.97" fill="#6fce3c" stroke="#000" stroke-width="0.35" stroke-linejoin="round"/>
<polygon points="470.27,196.97 476.00,197.69 465.78,201.86" fill="#1dcd81" stroke="#000" stroke-width="0.35" stroke-linejoin="round"/>
<polygon points="502.17,205.78 496.44,199.97 506.66,206.43" fill="#06c7a3" stroke="#000" stroke-width="0.35" stroke-linejoin="round"/>
<polygon points="465.78,201.86 460.05,202.84 470.27,196.97" fill="#2acf74" stroke="#000" stroke-width="0.35" stroke-linejoin="round"/>
<polygon points="480.49,194.64 486.22,197.06 476.00,197.69" fill="#81cd2e" stroke="#000" stroke-width="0.35" stroke-linejoin="round"/>
<polygon points="476.00,197.69 470.27,196.97 480.49,194.64" fill="#c7c501" stroke="#000" stroke-width="0.35" stroke-linejoin="round"/>
<polygon points="490.71,195.86 496.44,199.97 486.22,197.06" fill="#6fce3c" stroke="#000" stroke-width="0.35" stroke-linejoin="round"/>
<polygon points="486.22,197.06 480.49,194.64 490.71,195.86" fill="#eabf00" stroke="#000" stroke-width="0.35" stroke-linejoin="round"/>
<polygon points="500.93,200.62 506.66,206.43 496.44,199.97" fill="#06c7a3" stroke="#000" stroke-width="0.35" stroke-linejoin="round"/>
<polygon points="464.54,197.95 470.27,196.97 460.05,202.84" fill="#2acf74" stroke="#000" stroke-width="0.35" stroke-linejoin="round"/>
<polygon points="496.44,199.97 490.71,195.86 500.93,200.62" fill="#94cb20" stroke="#000" stroke-width="0.35" stroke-linejoin="round"/>
<polygon points="460.05,202.84 454.32,205.52 464.54,197.95" fill="#1dcd81" stroke="#000" stroke-width="0.35" stroke-linejoin="round"/>
<polygon points="474.76,193.92 480.49,194.64 470.27,196.97" fill="#c7c501" stroke="#000" stroke-width="0.35" stroke-linejoin="round"/>
<polygon points="506.66,206.43 500.93,200.62 511.15,208.93" fill="#06c7a3" stroke="#000" stroke-width="0.35" stroke-linejoin="round"/>
<polygon points="470.27,196.97 464.54,197.95 474.76,193.92" fill="#d3c300" stroke="#000" stroke-width="0.35" stroke-linejoin="round"/>
<polygon points="484.98,193.45 490.71,195.86 480.49,194.64" fill="#eabf00" stroke="#000" stroke-width="0.35" stroke-linejoin="round"/>
<polygon points="480.49,194.64 474.76,193.92 484.98,193.45" fill="#ffc406" stroke="#000" stroke-width="0.35" stroke-linejoin="round"/>
<polygon points="495.20,196.51 500.93,200.62 490.71,195.86" fill="#94cb20" stroke="#000" stroke-width="0.35" stroke-linejoin="round"/>
<polygon points="458.81,200.62 464.54,197.95 454.32,205.52" fill="#1dcd81" stroke="#000" stroke-width="0.35" stroke-linejoin="round"/>
<polygon points="490.71,195.86 484.98,193.45 495.20,196.51" fill="#ffd400" stroke="#000" stroke-width="0.35" stroke-linejoin="round"/>
<polygon points="505.42,203.12 511.15,208.93 500.93,200.62" fill="#06c7a3" stroke="#000" stroke-width="0.35" stroke-linejoin="round"/>
<polygon points="454.32,205.52 448.59,209.89 458.81,200.62" fill="#06c7a3" stroke="#000" stroke-width="0.35" stroke-linejoin="round"/>
<polygon points="469.03,194.90 474.76,193.92 464.54,197.95" fill="#d3c300" stroke="#000" stroke-width="0.35" stroke-linejoin="round"/>
<polygon points="500.93,200.62 495.20,196.51 505.42,203.12" fill="#a6c814" stroke="#000" stroke-width="0.35" stroke-linejoin="round"/>
<polygon points="464.54,197.95 458.81,200.62 469.03,194.90" fill="#c7c501" stroke="#000" stroke-width="0.35" stroke-linejoin="round"/>
<polygon points="479.25,192.73 484.98,193.45 474.76,193.92" fill="#ffc406" stroke="#000" stroke-width="0.35" stroke-linejoin="round"/>
<polygon points="511.15,208.93 505.42,203.12 515.64,213.27" fill="#00c3b7" stroke="#000" stroke-width="0.35" stroke-linejoin="round"/>
<polygon points="474.76,193.92 469.03,194.90 479.25,192.73" fill="#ffcc01" stroke="#000" stroke-width="0.35" stroke-linejoin="round"/>
<polygon points="489.47,194.10 495.20,196.51 484.98,193.45" fill="#ffd400" stroke="#000" stroke-width="0.35" stroke-linejoin="round"/>
<polygon points="453.08,205.00 458.81,200.62 448.59,209.89" fill="#06c7a3" stroke="#000" stroke-width="0.35" stroke-linejoin="round"/>
<polygon points="484.98,193.45 479.25,192.73 489.47,194.10" fill="#f8ed00" stroke="#000" stroke-width="0.35" stroke-linejoin="round"/>
<polygon points="499.69,199.01 505.42,203.12 495.20,196.51" fill="#a6c814" stroke="#000" stroke-width="0.35" stroke-linejoin="round"/>
<polygon points="448.59,209.89 442.86,215.96 453.08,205.00" fill="#00bbce" stroke="#000" stroke-width="0.35" stroke-linejoin="round"/>
<polygon points="463.30,197.58 469.03,194.90 458.81,200.62" fill="#c7c501" stroke="#000" stroke-width="0.35" stroke-linejoin="round"/>
<polygon points="495.20,196.51 489.47,194.10 499.69,199.01" fill="#fae500" stroke="#000" stroke-width="0.35" stroke-linejoin="round"/>
<polygon points="509.91,207.46 515.64,213.27 505.42,203.12" fill="#00c3b7" stroke="#000" stroke-width="0.35" stroke-linejoin="round"/>
<polygon points="458.81,200.62 453.08,205.00 463.30,197.58" fill="#94cb20" stroke="#000" stroke-width="0.35" stroke-linejoin="round"/>
<polygon points="473.52,193.71 479.25,192.73 469.03,194.90" fill="#ffcc01" stroke="#000" stroke-width="0.35" stroke-linejoin="round"/>
<polygon points="505.42,203.12 499.69,199.01 509.91,207.46" fill="#6fce3c" stroke="#000" stroke-width="0.35" stroke-linejoin="round"/>
<polygon points="469.03,194.90 463.30,197.58 473.52,193.71" fill="#ffcc01" stroke="#000" stroke-width="0.35" stroke-linejoin="round"/>
<polygon points="483.74,193.38 489.47,194.10 479.25,192.73" fill="#f8ed00" stroke="#000" stroke-width="0.35" stroke-linejoin="round"/>
<polygon points="447.35,211.07 453.08,205.00 442.86,215.96" fill="#00bbce" stroke="#000" stroke-width="0.35" stroke-linejoin="round"/>
<polygon points="515.64,213.27 509.91,207.46 520.13,219.47" fill="#00b7d5" stroke="#000" stroke-width="0.35" stroke-linejoin="round"/>
<polygon points="479.25,192.73 473.52,193.71 483.74,193.38" fill="#f7fc00" stroke="#000" stroke-width="0.35" stroke-linejoin="round"/>
<polygon points="493.96,196.59 499.69,199.01 489.47,194.10" fill="#fae500" stroke="#000" stroke-width="0.35" stroke-linejoin="round"/>
<polygon points="442.86,215.96 437.13,223.73 447.35,211.07" fill="#078cf0" stroke="#000" stroke-width="0.35" stroke-linejoin="round"/>
<polygon points="457.57,201.95 463.30,197.58 453.08,205.00" fill="#94cb20" stroke="#000" stroke-width="0.35" stroke-linejoin="round"/>
<polygon points="489.47,194.10 483.74,193.38 493.96,196.59" fill="#f9ff00" stroke="#000" stroke-width="0.35" stroke-linejoin="round"/>
<polygon points="504.18,203.35 509.91,207.46 499.69,199.01" fill="#6fce3c" stroke="#000" stroke-width="0.35" stroke-linejoin="round"/>
<polygon points="453.08,205.00 447.35,211.07 457.57,201.95" fill="#3acf67" stroke="#000" stroke-width="0.35" stroke-linejoin="round"/>
<polygon points="467.79,196.38 473.52,193.71 463.30,197.58" fill="#ffcc01" stroke="#000" stroke-width="0.35" stroke-linejoin="round"/>
<polygon points="499.69,199.01 493.96,196.59 504.18,203.35" fill="#f8ed00" stroke="#000" stroke-width="0.35" stroke-linejoin="round"/>
<polygon points="514.40,213.66 520.13,219.47 509.91,207.46" fill="#00b7d5" stroke="#000" stroke-width="0.35" stroke-linejoin="round"/>
<polygon points="463.30,197.58 457.57,201.95 467.79,196.38" fill="#fcba0e" stroke="#000" stroke-width="0.35" stroke-linejoin="round"/>
<polygon points="478.01,194.36 483.74,193.38 473.52,193.71" fill="#f7fc00" stroke="#000" stroke-width="0.35" stroke-linejoin="round"/>
<polygon points="441.62,218.84 447.35,211.07 437.13,223.73" fill="#078cf0" stroke="#000" stroke-width="0.35" stroke-linejoin="round"/>
<polygon points="509.91,207.46 504.18,203.35 514.40,213.66" fill="#2acf74" stroke="#000" stroke-width="0.35" stroke-linejoin="round"/>
<polygon points="473.52,193.71 467.79,196.38 478.01,194.36" fill="#f7f500" stroke="#000" stroke-width="0.35" stroke-linejoin="round"/>
<polygon points="488.23,195.87 493.96,196.59 483.74,193.38" fill="#f9ff00" stroke="#000" stroke-width="0.35" stroke-linejoin="round"/>
<polygon points="437.13,223.73 431.40,233.19 441.62,218.84" fill="#4563fd" stroke="#000" stroke-width="0.35" stroke-linejoin="round"/>
<polygon points="451.84,208.03 457.57,201.95 447.35,211.07" fill="#3acf67" stroke="#000" stroke-width="0.35" stroke-linejoin="round"/>
<polygon points="520.13,219.47 514.40,213.66 524.62,227.50" fill="#0a8cf0" stroke="#000" stroke-width="0.35" stroke-linejoin="round"/>
<polygon points="483.74,193.38 478.01,194.36 488.23,195.87" fill="#fbff00" stroke="#000" stroke-width="0.35" stroke-linejoin="round"/>
<polygon points="498.45,200.94 504.18,203.35 493.96,196.59" fill="#f8ed00" stroke="#000" stroke-width="0.35" stroke-linejoin="round"/>
<polygon points="447.35,211.07 441.62,218.84 451.84,208.03" fill="#00c0c0" stroke="#000" stroke-width="0.35" stroke-linejoin="round"/>
<polygon points="462.06,200.76 467.79,196.38 457.57,201.95" fill="#fcba0e" stroke="#000" stroke-width="0.35" stroke-linejoin="round"/>
<polygon points="493.96,196.59 488.23,195.87 498.45,200.94" fill="#f9ff00" stroke="#000" stroke-width="0.35" stroke-linejoin="round"/>
<polygon points="508.67,209.54 514.40,213.66 504.18,203.35" fill="#2acf74" stroke="#000" stroke-width="0.35" stroke-linejoin="round"/>
<polygon points="457.57,201.95 451.84,208.03 462.06,200.76" fill="#b7c60a" stroke="#000" stroke-width="0.35" stroke-linejoin="round"/>
<polygon points="472.28,197.03 478.01,194.36 467.79,196.38" fill="#f7f500" stroke="#000" stroke-width="0.35" stroke-linejoin="round"/>
<polygon points="435.89,228.30 441.62,218.84 431.40,233.19" fill="#4563fd" stroke="#000" stroke-width="0.35" stroke-linejoin="round"/>
<polygon points="504.18,203.35 498.45,200.94 508.67,209.54" fill="#ffd400" stroke="#000" stroke-width="0.35" stroke-linejoin="round"/>
<polygon points="518.89,221.69 524.62,227.50 514.40,213.66" fill="#0a8cf0" stroke="#000" stroke-width="0.35" stroke-linejoin="round"/>
<polygon points="467.79,196.38 462.06,200.76 472.28,197.03" fill="#fddc00" stroke="#000" stroke-width="0.35" stroke-linejoin="round"/>
<polygon points="482.50,196.85 488.23,195.87 478.01,194.36" fill="#fbff00" stroke="#000" stroke-width="0.35" stroke-linejoin="round"/>
<polygon points="446.11,215.79 451.84,208.03 441.62,218.84" fill="#00c0c0" stroke="#000" stroke-width="0.35" stroke-linejoin="round"/>
<polygon points="514.40,213.66 508.67,209.54 518.89,221.69" fill="#00c0c0" stroke="#000" stroke-width="0.35" stroke-linejoin="round"/>
<polygon points="478.01,194.36 472.28,197.03 482.50,196.85" fill="#f9ff00" stroke="#000" stroke-width="0.35" stroke-linejoin="round"/>
<polygon points="492.72,200.22 498.45,200.94 488.23,195.87" fill="#f9ff00" stroke="#000" stroke-width="0.35" stroke-linejoin="round"/>
<polygon points="441.62,218.84 435.89,228.30 446.11,215.79" fill="#0492ed" stroke="#000" stroke-width="0.35" stroke-linejoin="round"/>
<polygon points="456.33,206.83 462.06,200.76 451.84,208.03" fill="#b7c60a" stroke="#000" stroke-width="0.35" stroke-linejoin="round"/>
<polygon points="524.62,227.50 518.89,221.69 529.11,237.39" fill="#465efb" stroke="#000" stroke-width="0.35" stroke-linejoin="round"/>
<polygon points="488.23,195.87 482.50,196.85 492.72,200.22" fill="#fbff00" stroke="#000" stroke-width="0.35" stroke-linejoin="round"/>
<polygon points="502.94,207.13 508.67,209.54 498.45,200.94" fill="#ffd400" stroke="#000" stroke-width="0.35" stroke-linejoin="round"/>
<polygon points="451.84,208.03 446.11,215.79 456.33,206.83" fill="#3acf67" stroke="#000" stroke-width="0.35" stroke-linejoin="round"/>
<polygon points="466.55,201.41 472.28,197.03 462.06,200.76" fill="#fddc00" stroke="#000" stroke-width="0.35" stroke-linejoin="round"/>
<polygon points="498.45,200.94 492.72,200.22 502.94,207.13" fill="#f7f500" stroke="#000" stroke-width="0.35" stroke-linejoin="round"/>
<polygon points="513.16,217.58 518.89,221.69 508.67,209.54" fill="#00c0c0" stroke="#000" stroke-width="0.35" stroke-linejoin="round"/>
<polygon points="462.06,200.76 456.33,206.83 466.55,201.41" fill="#f3bc07" stroke="#000" stroke-width="0.35" stroke-linejoin="round"/>
<polygon points="476.77,199.53 482.50,196.85 472.28,197.03" fill="#f9ff00" stroke="#000" stroke-width="0.35" stroke-linejoin="round"/>
<polygon points="440.38,225.26 446.11,215.79 435.89,228.30" fill="#0492ed" stroke="#000" stroke-width="0.35" stroke-linejoin="round"/>
<polygon points="508.67,209.54 502.94,207.13 513.16,217.58" fill="#fcba0e" stroke="#000" stroke-width="0.35" stroke-linejoin="round"/>
<polygon points="523.38,231.58 529.11,237.39 518.89,221.69" fill="#465efb" stroke="#000" stroke-width="0.35" stroke-linejoin="round"/>
<polygon points="472.28,197.03 466.55,201.41 476.77,199.53" fill="#f8ed00" stroke="#000" stroke-width="0.35" stroke-linejoin="round"/>
<polygon points="486.99,201.20 492.72,200.22 482.50,196.85" fill="#fbff00" stroke="#000" stroke-width="0.35" stroke-linejoin="round"/>
<polygon points="450.60,214.60 456.33,206.83 446.11,215.79" fill="#3acf67" stroke="#000" stroke-width="0.35" stroke-linejoin="round"/>
<polygon points="518.89,221.69 513.16,217.58 523.38,231.58" fill="#0592ed" stroke="#000" stroke-width="0.35" stroke-linejoin="round"/>
<polygon points="482.50,196.85 476.77,199.53 486.99,201.20" fill="#fbff00" stroke="#000" stroke-width="0.35" stroke-linejoin="round"/>
<polygon points="497.21,206.41 502.94,207.13 492.72,200.22" fill="#f7f500" stroke="#000" stroke-width="0.35" stroke-linejoin="round"/>
<polygon points="446.11,215.79 440.38,225.26 450.60,214.60" fill="#00bbce" stroke="#000" stroke-width="0.35" stroke-linejoin="round"/>
<polygon points="460.82,207.48 466.55,201.41 456.33,206.83" fill="#f3bc07" stroke="#000" stroke-width="0.35" stroke-linejoin="round"/>
<polygon points="529.11,237.39 523.38,231.58 533.60,249.12" fill="#3e26a8" stroke="#000" stroke-width="0.35" stroke-linejoin="round"/>
<polygon points="492.72,200.22 486.99,201.20 497.21,206.41" fill="#f7fc00" stroke="#000" stroke-width="0.35" stroke-linejoin="round"/>
<polygon points="507.43,215.16 513.16,217.58 502.94,207.13" fill="#fcba0e" stroke="#000" stroke-width="0.35" stroke-linejoin="round"/>
<polygon points="456.33,206.83 450.60,214.60 460.82,207.48" fill="#94cb20" stroke="#000" stroke-width="0.35" stroke-linejoin="round"/>
<polygon points="471.04,203.90 476.77,199.53 466.55,201.41" fill="#f8ed00" stroke="#000" stroke-width="0.35" stroke-linejoin="round"/>
<polygon points="502.94,207.13 497.21,206.41 507.43,215.16" fill="#ffcc01" stroke="#000" stroke-width="0.35" stroke-linejoin="round"/>
<polygon points="517.65,227.46 523.38,231.58 513.16,217.58" fill="#0592ed" stroke="#000" stroke-width="0.35" stroke-linejoin="round"/>
<polygon points="466.55,201.41 460.82,207.48 471.04,203.90" fill="#ffc406" stroke="#000" stroke-width="0.35" stroke-linejoin="round"/>
<polygon points="481.26,203.87 486.99,201.20 476.77,199.53" fill="#fbff00" stroke="#000" stroke-width="0.35" stroke-linejoin="round"/>
<polygon points="444.87,224.06 450.60,214.60 440.38,225.26" fill="#00bbce" stroke="#000" stroke-width="0.35" stroke-linejoin="round"/>
<polygon points="513.16,217.58 507.43,215.16 517.65,227.46" fill="#a6c814" stroke="#000" stroke-width="0.35" stroke-linejoin="round"/>
<polygon points="527.87,243.31 533.60,249.12 523.38,231.58" fill="#3e26a8" stroke="#000" stroke-width="0.35" stroke-linejoin="round"/>
<polygon points="476.77,199.53 471.04,203.90 481.26,203.87" fill="#f7f500" stroke="#000" stroke-width="0.35" stroke-linejoin="round"/>
<polygon points="491.48,207.39 497.21,206.41 486.99,201.20" fill="#f7fc00" stroke="#000" stroke-width="0.35" stroke-linejoin="round"/>
<polygon points="455.09,215.25 460.82,207.48 450.60,214.60" fill="#94cb20" stroke="#000" stroke-width="0.35" stroke-linejoin="round"/>
<polygon points="523.38,231.58 517.65,227.46 527.87,243.31" fill="#4758f8" stroke="#000" stroke-width="0.35" stroke-linejoin="round"/>
<polygon points="486.99,201.20 481.26,203.87 491.48,207.39" fill="#f7fc00" stroke="#000" stroke-width="0.35" stroke-linejoin="round"/>
<polygon points="501.70,214.45 507.43,215.16 497.21,206.41" fill="#ffcc01" stroke="#000" stroke-width="0.35" stroke-linejoin="round"/>
<polygon points="450.60,214.60 444.87,224.06 455.09,215.25" fill="#06c7a3" stroke="#000" stroke-width="0.35" stroke-linejoin="round"/>
<polygon points="465.31,209.98 471.04,203.90 460.82,207.48" fill="#ffc406" stroke="#000" stroke-width="0.35" stroke-linejoin="round"/>
<polygon points="497.21,206.41 491.48,207.39 501.70,214.45" fill="#fddc00" stroke="#000" stroke-width="0.35" stroke-linejoin="round"/>
<polygon points="511.92,225.05 517.65,227.46 507.43,215.16" fill="#a6c814" stroke="#000" stroke-width="0.35" stroke-linejoin="round"/>
<polygon points="460.82,207.48 455.09,215.25 465.31,209.98" fill="#c7c501" stroke="#000" stroke-width="0.35" stroke-linejoin="round"/>
<polygon points="475.53,208.25 481.26,203.87 471.04,203.90" fill="#f7f500" stroke="#000" stroke-width="0.35" stroke-linejoin="round"/>
<polygon points="507.43,215.16 501.70,214.45 511.92,225.05" fill="#d3c300" stroke="#000" stroke-width="0.35" stroke-linejoin="round"/>
<polygon points="522.14,239.20 527.87,243.31 517.65,227.46" fill="#4758f8" stroke="#000" stroke-width="0.35" stroke-linejoin="round"/>
<polygon points="471.04,203.90 465.31,209.98 475.53,208.25" fill="#ffc406" stroke="#000" stroke-width="0.35" stroke-linejoin="round"/>
<polygon points="485.75,210.06 491.48,207.39 481.26,203.87" fill="#f7fc00" stroke="#000" stroke-width="0.35" stroke-linejoin="round"/>
<polygon points="449.36,224.71 455.09,215.25 444.87,224.06" fill="#06c7a3" stroke="#000" stroke-width="0.35" stroke-linejoin="round"/>
<polygon points="517.65,227.46 511.92,225.05 522.14,239.20" fill="#1a7efa" stroke="#000" stroke-width="0.35" stroke-linejoin="round"/>
<polygon points="481.26,203.87 475.53,208.25 485.75,210.06" fill="#fddc00" stroke="#000" stroke-width="0.35" stroke-linejoin="round"/>
<polygon points="495.97,215.43 501.70,214.45 491.48,207.39" fill="#fddc00" stroke="#000" stroke-width="0.35" stroke-linejoin="round"/>
<polygon points="459.58,217.74 465.31,209.98 455.09,215.25" fill="#c7c501" stroke="#000" stroke-width="0.35" stroke-linejoin="round"/>
<polygon points="491.48,207.39 485.75,210.06 495.97,215.43" fill="#ffd400" stroke="#000" stroke-width="0.35" stroke-linejoin="round"/>
<polygon points="506.19,224.33 511.92,225.05 501.70,214.45" fill="#d3c300" stroke="#000" stroke-width="0.35" stroke-linejoin="round"/>
<polygon points="455.09,215.25 449.36,224.71 459.58,217.74" fill="#1dcd81" stroke="#000" stroke-width="0.35" stroke-linejoin="round"/>
<polygon points="469.80,214.32 475.53,208.25 465.31,209.98" fill="#ffc406" stroke="#000" stroke-width="0.35" stroke-linejoin="round"/>
<polygon points="501.70,214.45 495.97,215.43 506.19,224.33" fill="#eabf00" stroke="#000" stroke-width="0.35" stroke-linejoin="round"/>
<polygon points="516.41,236.78 522.14,239.20 511.92,225.05" fill="#1a7efa" stroke="#000" stroke-width="0.35" stroke-linejoin="round"/>
<polygon points="465.31,209.98 459.58,217.74 469.80,214.32" fill="#c7c501" stroke="#000" stroke-width="0.35" stroke-linejoin="round"/>
<polygon points="480.02,214.44 485.75,210.06 475.53,208.25" fill="#fddc00" stroke="#000" stroke-width="0.35" stroke-linejoin="round"/>
<polygon points="511.92,225.05 506.19,224.33 516.41,236.78" fill="#009de8" stroke="#000" stroke-width="0.35" stroke-linejoin="round"/>
<polygon points="475.53,208.25 469.80,214.32 480.02,214.44" fill="#fddc00" stroke="#000" stroke-width="0.35" stroke-linejoin="round"/>
<polygon points="490.24,218.10 495.97,215.43 485.75,210.06" fill="#ffd400" stroke="#000" stroke-width="0.35" stroke-linejoin="round"/>
<polygon points="453.85,227.21 459.58,217.74 449.36,224.71" fill="#1dcd81" stroke="#000" stroke-width="0.35" stroke-linejoin="round"/>
<polygon points="485.75,210.06 480.02,214.44 490.24,218.10" fill="#ffbd0c" stroke="#000" stroke-width="0.35" stroke-linejoin="round"/>
<polygon points="500.46,225.31 506.19,224.33 495.97,215.43" fill="#eabf00" stroke="#000" stroke-width="0.35" stroke-linejoin="round"/>
<polygon points="464.07,222.09 469.80,214.32 459.58,217.74" fill="#c7c501" stroke="#000" stroke-width="0.35" stroke-linejoin="round"/>
<polygon points="495.97,215.43 490.24,218.10 500.46,225.31" fill="#dfc200" stroke="#000" stroke-width="0.35" stroke-linejoin="round"/>
<polygon points="510.68,236.06 516.41,236.78 506.19,224.33" fill="#009de8" stroke="#000" stroke-width="0.35" stroke-linejoin="round"/>
<polygon points="459.58,217.74 453.85,227.21 464.07,222.09" fill="#1dcd81" stroke="#000" stroke-width="0.35" stroke-linejoin="round"/>
<polygon points="474.29,220.51 480.02,214.44 469.80,214.32" fill="#fcba0e" stroke="#000" stroke-width="0.35" stroke-linejoin="round"/>
<polygon points="506.19,224.33 500.46,225.31 510.68,236.06" fill="#00b1db" stroke="#000" stroke-width="0.35" stroke-linejoin="round"/>
<polygon points="469.80,214.32 464.07,222.09 474.29,220.51" fill="#d3c300" stroke="#000" stroke-width="0.35" stroke-linejoin="round"/>
<polygon points="484.51,222.48 490.24,218.10 480.02,214.44" fill="#ffbd0c" stroke="#000" stroke-width="0.35" stroke-linejoin="round"/>
<polygon points="480.02,214.44 474.29,220.51 484.51,222.48" fill="#d3c300" stroke="#000" stroke-width="0.35" stroke-linejoin="round"/>
<polygon points="494.73,227.99 500.46,225.31 490.24,218.10" fill="#dfc200" stroke="#000" stroke-width="0.35" stroke-linejoin="round"/>
<polygon points="458.34,231.55 464.07,222.09 453.85,227.21" fill="#1dcd81" stroke="#000" stroke-width="0.35" stroke-linejoin="round"/>
<polygon points="490.24,218.10 484.51,222.48 494.73,227.99" fill="#b7c60a" stroke="#000" stroke-width="0.35" stroke-linejoin="round"/>
<polygon points="504.95,237.04 510.68,236.06 500.46,225.31" fill="#00b1db" stroke="#000" stroke-width="0.35" stroke-linejoin="round"/>
<polygon points="468.56,228.28 474.29,220.51 464.07,222.09" fill="#a6c814" stroke="#000" stroke-width="0.35" stroke-linejoin="round"/>
<polygon points="500.46,225.31 494.73,227.99 504.95,237.04" fill="#00bbce" stroke="#000" stroke-width="0.35" stroke-linejoin="round"/>
<polygon points="464.07,222.09 458.34,231.55 468.56,228.28" fill="#0dc998" stroke="#000" stroke-width="0.35" stroke-linejoin="round"/>
<polygon points="478.78,228.55 484.51,222.48 474.29,220.51" fill="#5ccf4a" stroke="#000" stroke-width="0.35" stroke-linejoin="round"/>
<polygon points="474.29,220.51 468.56,228.28 478.78,228.55" fill="#4ad059" stroke="#000" stroke-width="0.35" stroke-linejoin="round"/>
<polygon points="489.00,232.36 494.73,227.99 484.51,222.48" fill="#b7c60a" stroke="#000" stroke-width="0.35" stroke-linejoin="round"/>
<polygon points="484.51,222.48 478.78,228.55 489.00,232.36" fill="#5ccf4a" stroke="#000" stroke-width="0.35" stroke-linejoin="round"/>
<polygon points="499.22,239.72 504.95,237.04 494.73,227.99" fill="#00bbce" stroke="#000" stroke-width="0.35" stroke-linejoin="round"/>
<polygon points="462.83,237.74 468.56,228.28 458.34,231.55" fill="#0dc998" stroke="#000" stroke-width="0.35" stroke-linejoin="round"/>
<polygon points="494.73,227.99 489.00,232.36 499.22,239.72" fill="#1dcd81" stroke="#000" stroke-width="0.35" stroke-linejoin="round"/>
<polygon points="473.05,236.32 478.78,228.55 468.56,228.28" fill="#4ad059" stroke="#000" stroke-width="0.35" stroke-linejoin="round"/>
<polygon points="468.56,228.28 462.83,237.74 473.05,236.32" fill="#00bec7" stroke="#000" stroke-width="0.35" stroke-linejoin="round"/>
<polygon points="483.27,238.43 489.00,232.36 478.78,228.55" fill="#5ccf4a" stroke="#000" stroke-width="0.35" stroke-linejoin="round"/>
<polygon points="478.78,228.55 473.05,236.32 483.27,238.43" fill="#00c5ad" stroke="#000" stroke-width="0.35" stroke-linejoin="round"/>
<polygon points="493.49,244.09 499.22,239.72 489.00,232.36" fill="#1dcd81" stroke="#000" stroke-width="0.35" stroke-linejoin="round"/>
<polygon points="489.00,232.36 483.27,238.43 493.49,244.09" fill="#00c0c0" stroke="#000" stroke-width="0.35" stroke-linejoin="round"/>
<polygon points="467.32,245.78 473.05,236.32 462.83,237.74" fill="#00bec7" stroke="#000" stroke-width="0.35" stroke-linejoin="round"/>
<polygon points="477.54,246.20 483.27,238.43 473.05,236.32" fill="#00c5ad" stroke="#000" stroke-width="0.35" stroke-linejoin="round"/>
<polygon points="473.05,236.32 467.32,245.78 477.54,246.20" fill="#0096eb" stroke="#000" stroke-width="0.35" stroke-linejoin="round"/>
<polygon points="487.76,250.16 493.49,244.09 483.27,238.43" fill="#00c0c0" stroke="#000" stroke-width="0.35" stroke-linejoin="round"/>
<polygon points="483.27,238.43 477.54,246.20 487.76,250.16" fill="#009de8" stroke="#000" stroke-width="0.35" stroke-linejoin="round"/>
<polygon points="471.81,255.67 477.54,246.20 467.32,245.78" fill="#0096eb" stroke="#000" stroke-width="0.35" stroke-linejoin="round"/>
<polygon points="482.03,257.93 487.76,250.16 477.54,246.20" fill="#009de8" stroke="#000" stroke-width="0.35" stroke-linejoin="round"/>
<polygon points="477.54,246.20 471.81,255.67 482.03,257.93" fill="#009de8" stroke="#000" stroke-width="0.35" stroke-linejoin="round"/>
<polygon points="476.30,267.40 482.03,257.93 471.81,255.67" fill="#386bff" stroke="#000" stroke-width="0.35" stroke-linejoin="round"/>
<line x1="431.40" y1="249.00" x2="431.40" y2="193.40" stroke="#5c5c5c" stroke-width="0.7"/>
<line x1="431.40" y1="249.00" x2="476.30" y2="276.00" stroke="#5c5c5c" stroke-width="0.6"/>
<line x1="476.30" y1="276.00" x2="533.60" y2="255.60" stroke="#5c5c5c" stroke-width="0.6"/>
<line x1="430.90" y1="249.00" x2="432.30" y2="249.00" stroke="#5c5c5c" stroke-width="0.5"/>
<text x="427.80" y="250.00" font-size="5.2" text-anchor="end" font-weight="normal" fill="#626262" font-family="Liberation Sans, sans-serif">-0.5</text>
<line x1="430.90" y1="223.73" x2="432.30" y2="223.73" stroke="#5c5c5c" stroke-width="0.5"/>
<text x="427.80" y="224.73" font-size="5.2" text-anchor="end" font-weight="normal" fill="#626262" font-family="Liberation Sans, sans-serif">0</text>
<line x1="430.90" y1="198.45" x2="432.30" y2="198.45" stroke="#5c5c5c" stroke-width="0.5"/>
<text x="427.80" y="199.45" font-size="5.2" text-anchor="end" font-weight="normal" fill="#626262" font-family="Liberation Sans, sans-serif">0.5</text>
<line x1="476.30" y1="276.00" x2="475.27" y2="275.38" stroke="#5c5c5c" stroke-width="0.5"/>
<text x="480.70" y="283.70" font-size="5.2" text-anchor="middle" font-weight="normal" fill="#626262" font-family="Liberation Sans, sans-serif">-5</text>
<line x1="504.95" y1="265.80" x2="503.92" y2="265.18" stroke="#5c5c5c" stroke-width="0.5"/>
<text x="509.85" y="273.50" font-size="5.2" text-anchor="middle" font-weight="normal" fill="#626262" font-family="Liberation Sans, sans-serif">0</text>
<line x1="533.60" y1="255.60" x2="532.57" y2="254.98" stroke="#5c5c5c" stroke-width="0.5"/>
<text x="538.50" y="263.30" font-size="5.2" text-anchor="middle" font-weight="normal" fill="#626262" font-family="Liberation Sans, sans-serif">5</text>
<line x1="476.30" y1="276.00" x2="477.43" y2="275.60" stroke="#5c5c5c" stroke-width="0.5"/>
<text x="470.20" y="283.20" font-size="5.2" text-anchor="middle" font-weight="normal" fill="#626262" font-family="Liberation Sans, sans-serif">-5</text>
<line x1="453.85" y1="262.50" x2="454.98" y2="262.10" stroke="#5c5c5c" stroke-width="0.5"/>
<text x="448.25" y="269.70" font-size="5.2" text-anchor="middle" font-weight="normal" fill="#626262" font-family="Liberation Sans, sans-serif">0</text>
<line x1="431.40" y1="249.00" x2="432.53" y2="248.60" stroke="#5c5c5c" stroke-width="0.5"/>
<text x="425.80" y="256.20" font-size="5.2" text-anchor="middle" font-weight="normal" fill="#626262" font-family="Liberation Sans, sans-serif">5</text>
<text x="482.80" y="170.85" font-size="5.75" text-anchor="middle" font-weight="bold" fill="#000" font-family="Liberation Sans, sans-serif" stroke="#000" stroke-width="0.12">2nd Polynomic Function</text>
<text x="6.90" y="17.90" font-size="11.6" text-anchor="start" font-weight="normal" fill="#111" font-family="Liberation Serif, serif">a)</text>
<text x="6.90" y="166.40" font-size="11.6" text-anchor="start" font-weight="normal" fill="#111" font-family="Liberation Serif, serif">b)</text>
</svg>
</body></html>
